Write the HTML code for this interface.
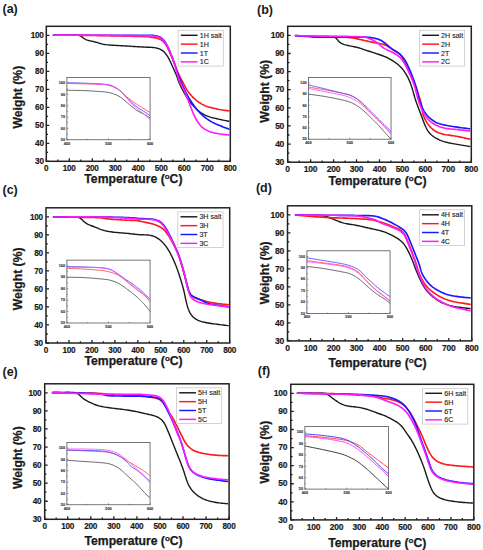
<!DOCTYPE html>
<html><head><meta charset="utf-8"><style>
html,body{margin:0;padding:0;background:#fff;width:483px;height:550px;overflow:hidden;}
svg{display:block;}
text{font-family:"Liberation Sans",sans-serif;}
</style></head><body>
<svg width="483" height="550" viewBox="0 0 483 550">
<rect width="483" height="550" fill="#fff"/>
<g><text x="2.5" y="12.6" font-size="12.5" font-weight="bold" fill="#1a1a1a">(a)</text><path d="M46.30,161.30V158.30 M57.80,161.30V159.50 M69.30,161.30V158.30 M80.80,161.30V159.50 M92.30,161.30V158.30 M103.80,161.30V159.50 M115.30,161.30V158.30 M126.80,161.30V159.50 M138.30,161.30V158.30 M149.80,161.30V159.50 M161.30,161.30V158.30 M172.80,161.30V159.50 M184.30,161.30V158.30 M195.80,161.30V159.50 M207.30,161.30V158.30 M218.80,161.30V159.50 M230.30,161.30V158.30 M46.30,161.30H49.30 M46.30,152.30H48.10 M46.30,143.30H49.30 M46.30,134.30H48.10 M46.30,125.30H49.30 M46.30,116.30H48.10 M46.30,107.30H49.30 M46.30,98.30H48.10 M46.30,89.30H49.30 M46.30,80.30H48.10 M46.30,71.30H49.30 M46.30,62.30H48.10 M46.30,53.30H49.30 M46.30,44.30H48.10 M46.30,35.30H49.30" stroke="#222222" stroke-width="1.3" fill="none"/><text x="43.70" y="164.00" font-size="8.2" font-weight="bold" fill="#1a1a1a" letter-spacing="-0.25" stroke="#1a1a1a" stroke-width="0.18" text-anchor="end">30</text><text x="43.70" y="146.00" font-size="8.2" font-weight="bold" fill="#1a1a1a" letter-spacing="-0.25" stroke="#1a1a1a" stroke-width="0.18" text-anchor="end">40</text><text x="43.70" y="128.00" font-size="8.2" font-weight="bold" fill="#1a1a1a" letter-spacing="-0.25" stroke="#1a1a1a" stroke-width="0.18" text-anchor="end">50</text><text x="43.70" y="110.00" font-size="8.2" font-weight="bold" fill="#1a1a1a" letter-spacing="-0.25" stroke="#1a1a1a" stroke-width="0.18" text-anchor="end">60</text><text x="43.70" y="92.00" font-size="8.2" font-weight="bold" fill="#1a1a1a" letter-spacing="-0.25" stroke="#1a1a1a" stroke-width="0.18" text-anchor="end">70</text><text x="43.70" y="74.00" font-size="8.2" font-weight="bold" fill="#1a1a1a" letter-spacing="-0.25" stroke="#1a1a1a" stroke-width="0.18" text-anchor="end">80</text><text x="43.70" y="56.00" font-size="8.2" font-weight="bold" fill="#1a1a1a" letter-spacing="-0.25" stroke="#1a1a1a" stroke-width="0.18" text-anchor="end">90</text><text x="43.70" y="38.00" font-size="8.2" font-weight="bold" fill="#1a1a1a" letter-spacing="-0.25" stroke="#1a1a1a" stroke-width="0.18" text-anchor="end">100</text><text x="46.20" y="171.00" font-size="8.2" font-weight="bold" fill="#1a1a1a" letter-spacing="-0.25" stroke="#1a1a1a" stroke-width="0.18" text-anchor="middle">0</text><text x="69.20" y="171.00" font-size="8.2" font-weight="bold" fill="#1a1a1a" letter-spacing="-0.25" stroke="#1a1a1a" stroke-width="0.18" text-anchor="middle">100</text><text x="92.20" y="171.00" font-size="8.2" font-weight="bold" fill="#1a1a1a" letter-spacing="-0.25" stroke="#1a1a1a" stroke-width="0.18" text-anchor="middle">200</text><text x="115.20" y="171.00" font-size="8.2" font-weight="bold" fill="#1a1a1a" letter-spacing="-0.25" stroke="#1a1a1a" stroke-width="0.18" text-anchor="middle">300</text><text x="138.20" y="171.00" font-size="8.2" font-weight="bold" fill="#1a1a1a" letter-spacing="-0.25" stroke="#1a1a1a" stroke-width="0.18" text-anchor="middle">400</text><text x="161.20" y="171.00" font-size="8.2" font-weight="bold" fill="#1a1a1a" letter-spacing="-0.25" stroke="#1a1a1a" stroke-width="0.18" text-anchor="middle">500</text><text x="184.20" y="171.00" font-size="8.2" font-weight="bold" fill="#1a1a1a" letter-spacing="-0.25" stroke="#1a1a1a" stroke-width="0.18" text-anchor="middle">600</text><text x="207.20" y="171.00" font-size="8.2" font-weight="bold" fill="#1a1a1a" letter-spacing="-0.25" stroke="#1a1a1a" stroke-width="0.18" text-anchor="middle">700</text><text x="230.20" y="171.00" font-size="8.2" font-weight="bold" fill="#1a1a1a" letter-spacing="-0.25" stroke="#1a1a1a" stroke-width="0.18" text-anchor="middle">800</text><text transform="translate(21.90,97.10) rotate(-90)" x="0" y="0" font-size="12.2" font-weight="bold" fill="#1a1a1a" stroke="#1a1a1a" stroke-width="0.25" text-anchor="middle">Weight (%)</text><text x="133.40" y="182.90" font-size="12.2" font-weight="bold" fill="#1a1a1a" stroke="#1a1a1a" stroke-width="0.25" text-anchor="middle">Temperature (<tspan font-size="8" dy="-4">o</tspan><tspan dy="4">C)</tspan></text><rect x="66.89" y="77.42" width="83.16" height="62.32" fill="#fff" stroke="#555" stroke-width="0.8"/><path d="M66.89,139.75V138.25 M87.68,139.75V138.75 M108.47,139.75V138.25 M129.26,139.75V138.75 M150.05,139.75V138.25 M66.89,139.75H68.39 M66.89,134.08H67.89 M66.89,128.42H68.39 M66.89,122.75H67.89 M66.89,117.08H68.39 M66.89,111.42H67.89 M66.89,105.75H68.39 M66.89,100.09H67.89 M66.89,94.42H68.39 M66.89,88.76H67.89 M66.89,83.09H68.39" stroke="#555" stroke-width="0.6" fill="none"/><text x="65.09" y="140.95" font-size="3.8" font-weight="bold" fill="#333" stroke="#333" stroke-width="0.12" text-anchor="end">50</text><text x="65.09" y="129.62" font-size="3.8" font-weight="bold" fill="#333" stroke="#333" stroke-width="0.12" text-anchor="end">60</text><text x="65.09" y="118.28" font-size="3.8" font-weight="bold" fill="#333" stroke="#333" stroke-width="0.12" text-anchor="end">70</text><text x="65.09" y="106.95" font-size="3.8" font-weight="bold" fill="#333" stroke="#333" stroke-width="0.12" text-anchor="end">80</text><text x="65.09" y="95.62" font-size="3.8" font-weight="bold" fill="#333" stroke="#333" stroke-width="0.12" text-anchor="end">90</text><text x="65.09" y="84.29" font-size="3.8" font-weight="bold" fill="#333" stroke="#333" stroke-width="0.12" text-anchor="end">100</text><text x="66.89" y="144.55" font-size="3.8" font-weight="bold" fill="#333" stroke="#333" stroke-width="0.12" text-anchor="middle">400</text><text x="108.47" y="144.55" font-size="3.8" font-weight="bold" fill="#333" stroke="#333" stroke-width="0.12" text-anchor="middle">500</text><text x="150.05" y="144.55" font-size="3.8" font-weight="bold" fill="#333" stroke="#333" stroke-width="0.12" text-anchor="middle">600</text><path d="M66.89,90.25 L68.41,90.27 L69.92,90.29 L71.43,90.31 L72.95,90.34 L74.46,90.36 L75.98,90.39 L77.49,90.42 L79.01,90.45 L80.52,90.49 L82.04,90.54 L83.55,90.60 L85.06,90.66 L86.58,90.73 L88.09,90.80 L89.60,90.88 L91.12,90.96 L92.63,91.05 L94.14,91.14 L95.65,91.23 L97.17,91.34 L98.68,91.44 L100.19,91.56 L101.70,91.68 L103.21,91.81 L104.72,91.95 L106.22,92.12 L107.72,92.34 L109.20,92.63 L110.67,92.99 L112.13,93.40 L113.57,93.86 L114.99,94.38 L116.39,94.96 L117.76,95.61 L119.08,96.34 L120.36,97.14 L121.60,98.01 L122.79,98.94 L123.96,99.91 L125.11,100.89 L126.27,101.87 L127.42,102.85 L128.59,103.82 L129.76,104.78 L130.93,105.75 L132.09,106.72 L133.26,107.68 L134.44,108.63 L135.64,109.55 L136.87,110.43 L138.15,111.24 L139.47,111.97 L140.83,112.64 L142.21,113.27 L143.57,113.93 L144.91,114.64 L146.21,115.41 L147.50,116.21 L148.77,117.02 L150.05,117.84" stroke="#555555" stroke-width="0.9" fill="none" stroke-linejoin="round"/><path d="M66.89,83.48 L68.40,83.51 L69.91,83.54 L71.43,83.57 L72.94,83.60 L74.45,83.63 L75.96,83.66 L77.47,83.69 L78.99,83.72 L80.50,83.76 L82.01,83.79 L83.52,83.83 L85.03,83.86 L86.55,83.90 L88.06,83.93 L89.57,83.96 L91.08,83.99 L92.59,84.02 L94.11,84.06 L95.62,84.10 L97.13,84.15 L98.64,84.21 L100.15,84.29 L101.66,84.38 L103.17,84.49 L104.67,84.63 L106.17,84.81 L107.66,85.07 L109.13,85.42 L110.58,85.85 L112.00,86.36 L113.40,86.92 L114.77,87.55 L116.12,88.24 L117.43,88.99 L118.70,89.80 L119.93,90.68 L121.11,91.62 L122.25,92.62 L123.35,93.65 L124.44,94.70 L125.54,95.75 L126.64,96.77 L127.78,97.77 L128.95,98.72 L130.15,99.64 L131.38,100.53 L132.62,101.40 L133.86,102.25 L135.12,103.09 L136.38,103.93 L137.65,104.76 L138.92,105.58 L140.20,106.39 L141.48,107.18 L142.77,107.97 L144.06,108.77 L145.34,109.56 L146.63,110.37 L147.91,111.17 L149.19,111.97 L150.05,112.50" stroke="#ff5050" stroke-width="0.9" fill="none" stroke-linejoin="round"/><path d="M66.89,82.77 L68.41,82.79 L69.92,82.82 L71.43,82.84 L72.95,82.87 L74.46,82.89 L75.98,82.92 L77.49,82.95 L79.01,82.99 L80.52,83.03 L82.04,83.07 L83.55,83.12 L85.07,83.17 L86.58,83.23 L88.09,83.29 L89.61,83.35 L91.12,83.42 L92.63,83.49 L94.15,83.56 L95.66,83.64 L97.17,83.72 L98.68,83.81 L100.20,83.91 L101.71,84.02 L103.22,84.13 L104.73,84.24 L106.24,84.38 L107.73,84.59 L109.21,84.92 L110.65,85.36 L112.06,85.90 L113.44,86.52 L114.79,87.22 L116.09,87.98 L117.37,88.79 L118.60,89.67 L119.79,90.60 L120.94,91.59 L122.03,92.63 L123.10,93.71 L124.14,94.81 L125.18,95.91 L126.22,97.01 L127.28,98.10 L128.36,99.16 L129.45,100.21 L130.55,101.25 L131.65,102.29 L132.77,103.32 L133.89,104.33 L135.03,105.33 L136.19,106.30 L137.38,107.24 L138.61,108.12 L139.88,108.95 L141.17,109.73 L142.48,110.50 L143.78,111.28 L145.05,112.10 L146.31,112.94 L147.56,113.80 L148.80,114.66 L150.05,115.53" stroke="#5050ff" stroke-width="0.9" fill="none" stroke-linejoin="round"/><path d="M66.89,83.48 L68.41,83.47 L69.92,83.46 L71.44,83.44 L72.95,83.43 L74.47,83.42 L75.98,83.42 L77.50,83.42 L79.01,83.42 L80.53,83.43 L82.05,83.45 L83.56,83.48 L85.08,83.52 L86.59,83.57 L88.10,83.63 L89.62,83.69 L91.13,83.76 L92.65,83.83 L94.16,83.91 L95.67,83.99 L97.19,84.08 L98.70,84.17 L100.21,84.27 L101.72,84.37 L103.24,84.47 L104.75,84.56 L106.26,84.67 L107.76,84.85 L109.24,85.14 L110.70,85.55 L112.12,86.05 L113.52,86.64 L114.88,87.30 L116.20,88.04 L117.47,88.85 L118.70,89.74 L119.87,90.70 L120.97,91.73 L122.03,92.82 L123.04,93.94 L124.03,95.09 L125.01,96.24 L125.99,97.40 L126.99,98.54 L128.00,99.67 L129.03,100.78 L130.08,101.87 L131.13,102.97 L132.19,104.05 L133.25,105.13 L134.33,106.20 L135.42,107.25 L136.53,108.28 L137.67,109.28 L138.84,110.24 L140.05,111.15 L141.28,112.03 L142.51,112.92 L143.72,113.83 L144.89,114.79 L146.03,115.79 L147.14,116.82 L148.23,117.87 L149.32,118.92 L150.05,119.63" stroke="#ff50ff" stroke-width="0.9" fill="none" stroke-linejoin="round"/><path d="M53.55,35.20 L55.05,35.20 L56.55,35.20 L58.06,35.20 L59.56,35.20 L61.07,35.20 L62.57,35.20 L64.08,35.20 L65.58,35.19 L67.08,35.17 L68.59,35.15 L70.09,35.11 L71.60,35.07 L73.10,35.03 L74.60,35.01 L76.09,35.04 L77.54,35.16 L78.94,35.42 L80.24,35.88 L81.42,36.55 L82.51,37.36 L83.58,38.22 L84.72,39.00 L85.96,39.64 L87.31,40.14 L88.72,40.52 L90.18,40.85 L91.65,41.16 L93.12,41.47 L94.58,41.82 L96.03,42.20 L97.46,42.63 L98.90,43.07 L100.33,43.49 L101.78,43.88 L103.24,44.20 L104.72,44.46 L106.20,44.67 L107.70,44.83 L109.19,44.97 L110.69,45.08 L112.19,45.19 L113.69,45.29 L115.20,45.38 L116.70,45.47 L118.20,45.56 L119.70,45.64 L121.20,45.73 L122.71,45.81 L124.21,45.90 L125.71,45.98 L127.21,46.07 L128.71,46.16 L130.21,46.25 L131.72,46.34 L133.22,46.43 L134.72,46.52 L136.22,46.61 L137.72,46.71 L139.22,46.80 L140.72,46.89 L142.23,46.97 L143.73,47.05 L145.23,47.12 L146.73,47.18 L148.23,47.23 L149.73,47.29 L151.23,47.38 L152.73,47.50 L154.22,47.67 L155.69,47.90 L157.15,48.22 L158.58,48.63 L159.95,49.16 L161.26,49.83 L162.48,50.64 L163.62,51.58 L164.67,52.62 L165.65,53.74 L166.55,54.93 L167.39,56.17 L168.17,57.45 L168.90,58.76 L169.59,60.10 L170.25,61.45 L170.88,62.81 L171.50,64.18 L172.10,65.56 L172.70,66.94 L173.30,68.32 L173.92,69.69 L174.55,71.05 L175.19,72.41 L175.82,73.76 L176.41,75.13 L176.94,76.50 L177.40,77.89 L177.83,79.29 L178.29,80.69 L178.80,82.07 L179.39,83.44 L180.02,84.79 L180.69,86.14 L181.37,87.48 L182.06,88.81 L182.77,90.14 L183.47,91.47 L184.18,92.80 L184.91,94.11 L185.65,95.42 L186.42,96.72 L187.21,97.99 L188.04,99.24 L188.91,100.47 L189.81,101.67 L190.75,102.84 L191.71,103.99 L192.70,105.12 L193.71,106.24 L194.75,107.33 L195.81,108.39 L196.89,109.43 L198.01,110.43 L199.16,111.39 L200.36,112.29 L201.59,113.13 L202.87,113.92 L204.18,114.63 L205.53,115.29 L206.91,115.88 L208.31,116.42 L209.73,116.90 L211.16,117.33 L212.61,117.73 L214.07,118.09 L215.54,118.44 L217.00,118.77 L218.47,119.10 L219.94,119.42 L221.41,119.74 L222.88,120.06 L224.35,120.37 L225.82,120.68 L227.30,120.99 L228.77,121.29" stroke="#1a1a1a" stroke-width="1.4" fill="none" stroke-linejoin="round" stroke-linecap="round"/><path d="M53.55,35.20 L55.05,35.21 L56.56,35.21 L58.07,35.21 L59.57,35.22 L61.08,35.22 L62.59,35.22 L64.09,35.22 L65.60,35.23 L67.10,35.23 L68.61,35.24 L70.12,35.24 L71.62,35.25 L73.13,35.26 L74.64,35.27 L76.14,35.28 L77.65,35.29 L79.16,35.31 L80.66,35.32 L82.17,35.34 L83.68,35.36 L85.18,35.38 L86.69,35.40 L88.19,35.42 L89.70,35.44 L91.21,35.47 L92.71,35.49 L94.22,35.52 L95.73,35.55 L97.23,35.57 L98.74,35.60 L100.24,35.63 L101.75,35.66 L103.26,35.69 L104.76,35.71 L106.27,35.74 L107.77,35.77 L109.28,35.80 L110.79,35.83 L112.29,35.86 L113.80,35.89 L115.31,35.92 L116.81,35.96 L118.32,35.99 L119.82,36.02 L121.33,36.05 L122.84,36.08 L124.34,36.12 L125.85,36.15 L127.35,36.18 L128.86,36.21 L130.37,36.25 L131.87,36.28 L133.38,36.32 L134.88,36.35 L136.39,36.39 L137.90,36.43 L139.40,36.46 L140.91,36.50 L142.41,36.55 L143.92,36.59 L145.40,36.64 L146.82,36.70 L148.14,36.79 L149.28,36.90 L150.24,37.04 L151.09,37.20 L151.97,37.37 L153.02,37.53 L154.24,37.71 L155.60,37.93 L157.02,38.24 L158.43,38.65 L159.80,39.19 L161.10,39.88 L162.32,40.70 L163.43,41.65 L164.44,42.73 L165.35,43.89 L166.18,45.13 L166.94,46.43 L167.64,47.75 L168.30,49.11 L168.93,50.47 L169.53,51.85 L170.12,53.24 L170.71,54.62 L171.30,56.01 L171.89,57.40 L172.49,58.78 L173.07,60.17 L173.65,61.56 L174.21,62.96 L174.76,64.36 L175.30,65.77 L175.83,67.18 L176.36,68.58 L176.91,69.99 L177.48,71.38 L178.07,72.76 L178.69,74.14 L179.34,75.50 L180.00,76.85 L180.68,78.19 L181.37,79.53 L182.06,80.87 L182.75,82.21 L183.44,83.55 L184.14,84.88 L184.85,86.21 L185.58,87.53 L186.33,88.83 L187.12,90.11 L187.95,91.36 L188.82,92.59 L189.74,93.77 L190.70,94.92 L191.71,96.04 L192.76,97.11 L193.85,98.15 L194.97,99.16 L196.11,100.13 L197.29,101.07 L198.50,101.96 L199.73,102.82 L201.00,103.62 L202.30,104.37 L203.64,105.05 L205.00,105.67 L206.39,106.22 L207.81,106.70 L209.25,107.11 L210.71,107.48 L212.16,107.83 L213.61,108.18 L215.04,108.54 L216.47,108.90 L217.90,109.24 L219.35,109.53 L220.82,109.79 L222.30,110.01 L223.79,110.22 L225.28,110.41 L226.78,110.60 L228.27,110.79 L228.77,110.85" stroke="#ff1a1a" stroke-width="1.65" fill="none" stroke-linejoin="round" stroke-linecap="round"/><path d="M53.55,35.20 L55.05,35.20 L56.56,35.20 L58.06,35.20 L59.57,35.20 L61.08,35.20 L62.58,35.20 L64.09,35.20 L65.60,35.20 L67.10,35.20 L68.61,35.20 L70.11,35.20 L71.62,35.20 L73.13,35.20 L74.63,35.20 L76.14,35.20 L77.65,35.20 L79.15,35.20 L80.66,35.20 L82.16,35.20 L83.67,35.20 L85.18,35.20 L86.68,35.20 L88.19,35.20 L89.69,35.20 L91.20,35.20 L92.71,35.20 L94.21,35.20 L95.72,35.20 L97.23,35.20 L98.73,35.20 L100.24,35.20 L101.74,35.20 L103.25,35.20 L104.76,35.20 L106.26,35.20 L107.77,35.20 L109.27,35.20 L110.78,35.20 L112.29,35.20 L113.79,35.20 L115.30,35.20 L116.81,35.20 L118.31,35.20 L119.82,35.20 L121.32,35.20 L122.83,35.20 L124.34,35.20 L125.84,35.20 L127.35,35.20 L128.86,35.20 L130.36,35.20 L131.87,35.20 L133.37,35.20 L134.88,35.20 L136.39,35.20 L137.89,35.20 L139.40,35.20 L140.90,35.20 L142.41,35.20 L143.91,35.20 L145.39,35.20 L146.82,35.20 L148.14,35.20 L149.29,35.20 L150.25,35.21 L151.11,35.24 L152.01,35.30 L153.07,35.39 L154.30,35.54 L155.67,35.75 L157.08,36.06 L158.48,36.49 L159.83,37.06 L161.09,37.79 L162.26,38.67 L163.32,39.68 L164.27,40.81 L165.13,42.02 L165.92,43.29 L166.65,44.60 L167.33,45.94 L167.99,47.30 L168.62,48.66 L169.23,50.04 L169.82,51.43 L170.39,52.82 L170.96,54.21 L171.51,55.61 L172.06,57.02 L172.59,58.42 L173.12,59.84 L173.63,61.25 L174.14,62.67 L174.63,64.09 L175.12,65.52 L175.60,66.95 L176.07,68.38 L176.55,69.80 L177.03,71.23 L177.52,72.65 L178.02,74.07 L178.54,75.49 L179.07,76.90 L179.61,78.30 L180.17,79.70 L180.74,81.09 L181.33,82.48 L181.92,83.87 L182.52,85.25 L183.13,86.63 L183.74,88.00 L184.38,89.37 L185.03,90.72 L185.70,92.07 L186.39,93.41 L187.10,94.74 L187.83,96.05 L188.58,97.36 L189.36,98.65 L190.15,99.93 L190.96,101.20 L191.78,102.46 L192.62,103.71 L193.48,104.94 L194.36,106.17 L195.26,107.37 L196.19,108.55 L197.15,109.71 L198.13,110.85 L199.14,111.97 L200.18,113.06 L201.24,114.12 L202.34,115.15 L203.46,116.15 L204.62,117.11 L205.80,118.03 L207.02,118.92 L208.26,119.77 L209.52,120.58 L210.81,121.36 L212.12,122.11 L213.44,122.81 L214.79,123.48 L216.15,124.11 L217.54,124.70 L218.93,125.27 L220.33,125.82 L221.73,126.37 L223.14,126.91 L224.55,127.45 L225.95,127.99 L227.36,128.52 L228.77,129.06" stroke="#1a1aff" stroke-width="1.65" fill="none" stroke-linejoin="round" stroke-linecap="round"/><path d="M53.55,35.20 L55.05,35.20 L56.56,35.20 L58.06,35.19 L59.57,35.19 L61.07,35.18 L62.58,35.18 L64.08,35.17 L65.59,35.17 L67.09,35.17 L68.60,35.16 L70.10,35.16 L71.61,35.16 L73.12,35.16 L74.62,35.16 L76.13,35.16 L77.63,35.16 L79.14,35.17 L80.64,35.17 L82.15,35.18 L83.65,35.18 L85.16,35.19 L86.66,35.20 L88.17,35.21 L89.67,35.22 L91.18,35.23 L92.68,35.24 L94.19,35.26 L95.69,35.27 L97.20,35.28 L98.70,35.30 L100.21,35.31 L101.72,35.33 L103.22,35.34 L104.73,35.36 L106.23,35.37 L107.74,35.39 L109.24,35.41 L110.75,35.42 L112.25,35.44 L113.76,35.46 L115.26,35.47 L116.77,35.49 L118.27,35.51 L119.78,35.52 L121.28,35.54 L122.79,35.56 L124.29,35.58 L125.80,35.59 L127.30,35.61 L128.81,35.63 L130.31,35.64 L131.82,35.66 L133.32,35.68 L134.83,35.70 L136.33,35.71 L137.84,35.73 L139.35,35.75 L140.85,35.76 L142.36,35.78 L143.86,35.80 L145.34,35.81 L146.77,35.82 L148.09,35.83 L149.24,35.84 L150.21,35.85 L151.07,35.87 L151.97,35.91 L153.02,35.99 L154.25,36.11 L155.61,36.31 L157.02,36.60 L158.42,37.02 L159.77,37.58 L161.04,38.30 L162.22,39.17 L163.29,40.17 L164.27,41.28 L165.17,42.47 L165.99,43.72 L166.76,45.01 L167.47,46.33 L168.14,47.67 L168.78,49.04 L169.39,50.41 L169.98,51.80 L170.55,53.19 L171.11,54.58 L171.67,55.98 L172.21,57.39 L172.74,58.80 L173.26,60.21 L173.76,61.63 L174.24,63.05 L174.70,64.49 L175.13,65.93 L175.55,67.37 L175.95,68.82 L176.34,70.28 L176.72,71.73 L177.10,73.19 L177.48,74.65 L177.87,76.10 L178.30,77.54 L178.77,78.96 L179.30,80.37 L179.88,81.75 L180.50,83.12 L181.16,84.47 L181.84,85.81 L182.52,87.15 L183.19,88.50 L183.85,89.85 L184.47,91.22 L185.07,92.60 L185.66,93.99 L186.22,95.38 L186.78,96.78 L187.33,98.18 L187.88,99.58 L188.43,100.98 L188.97,102.39 L189.52,103.79 L190.06,105.20 L190.59,106.60 L191.13,108.01 L191.67,109.41 L192.22,110.81 L192.79,112.21 L193.38,113.59 L194.00,114.96 L194.65,116.31 L195.33,117.66 L196.05,118.98 L196.79,120.29 L197.57,121.57 L198.39,122.82 L199.27,124.04 L200.21,125.20 L201.22,126.30 L202.30,127.32 L203.46,128.26 L204.68,129.11 L205.96,129.87 L207.29,130.55 L208.66,131.15 L210.06,131.68 L211.49,132.14 L212.93,132.54 L214.39,132.90 L215.86,133.21 L217.34,133.50 L218.82,133.76 L220.31,134.00 L221.79,134.22 L223.29,134.41 L224.78,134.60 L226.28,134.77 L227.77,134.93 L228.77,135.04" stroke="#ff1aff" stroke-width="1.65" fill="none" stroke-linejoin="round" stroke-linecap="round"/><rect x="46.30" y="26.30" width="184.00" height="135.00" fill="none" stroke="#222222" stroke-width="1.5"/><rect x="178.10" y="30.30" width="45.20" height="35.80" fill="#fff" stroke="#c8c8c8" stroke-width="0.8"/><path d="M180.80,35.30H197.60" stroke="#1a1a1a" stroke-width="1.45"/><text x="199.70" y="37.90" font-size="7.1" fill="#222" stroke="#222" stroke-width="0.12">1H salt</text><path d="M180.80,44.15H197.60" stroke="#ff1a1a" stroke-width="1.45"/><text x="199.70" y="46.75" font-size="7.1" fill="#222" stroke="#222" stroke-width="0.12">1H</text><path d="M180.80,53.00H197.60" stroke="#1a1aff" stroke-width="1.45"/><text x="199.70" y="55.60" font-size="7.1" fill="#222" stroke="#222" stroke-width="0.12">1T</text><path d="M180.80,61.85H197.60" stroke="#ff1aff" stroke-width="1.45"/><text x="199.70" y="64.45" font-size="7.1" fill="#222" stroke="#222" stroke-width="0.12">1C</text></g>
<g><text x="257" y="14.3" font-size="12.5" font-weight="bold" fill="#1a1a1a">(b)</text><path d="M287.70,162.20V159.20 M299.18,162.20V160.40 M310.65,162.20V159.20 M322.12,162.20V160.40 M333.60,162.20V159.20 M345.07,162.20V160.40 M356.55,162.20V159.20 M368.02,162.20V160.40 M379.50,162.20V159.20 M390.98,162.20V160.40 M402.45,162.20V159.20 M413.93,162.20V160.40 M425.40,162.20V159.20 M436.88,162.20V160.40 M448.35,162.20V159.20 M459.83,162.20V160.40 M471.30,162.20V159.20 M287.70,162.20H290.70 M287.70,153.14H289.50 M287.70,144.08H290.70 M287.70,135.02H289.50 M287.70,125.96H290.70 M287.70,116.90H289.50 M287.70,107.84H290.70 M287.70,98.78H289.50 M287.70,89.72H290.70 M287.70,80.66H289.50 M287.70,71.60H290.70 M287.70,62.54H289.50 M287.70,53.48H290.70 M287.70,44.42H289.50 M287.70,35.36H290.70" stroke="#222222" stroke-width="1.3" fill="none"/><text x="284.10" y="164.90" font-size="8.5" font-weight="bold" fill="#1a1a1a" letter-spacing="-0.25" stroke="#1a1a1a" stroke-width="0.18" text-anchor="end">30</text><text x="284.10" y="146.78" font-size="8.5" font-weight="bold" fill="#1a1a1a" letter-spacing="-0.25" stroke="#1a1a1a" stroke-width="0.18" text-anchor="end">40</text><text x="284.10" y="128.66" font-size="8.5" font-weight="bold" fill="#1a1a1a" letter-spacing="-0.25" stroke="#1a1a1a" stroke-width="0.18" text-anchor="end">50</text><text x="284.10" y="110.54" font-size="8.5" font-weight="bold" fill="#1a1a1a" letter-spacing="-0.25" stroke="#1a1a1a" stroke-width="0.18" text-anchor="end">60</text><text x="284.10" y="92.42" font-size="8.5" font-weight="bold" fill="#1a1a1a" letter-spacing="-0.25" stroke="#1a1a1a" stroke-width="0.18" text-anchor="end">70</text><text x="284.10" y="74.30" font-size="8.5" font-weight="bold" fill="#1a1a1a" letter-spacing="-0.25" stroke="#1a1a1a" stroke-width="0.18" text-anchor="end">80</text><text x="284.10" y="56.18" font-size="8.5" font-weight="bold" fill="#1a1a1a" letter-spacing="-0.25" stroke="#1a1a1a" stroke-width="0.18" text-anchor="end">90</text><text x="284.10" y="38.06" font-size="8.5" font-weight="bold" fill="#1a1a1a" letter-spacing="-0.25" stroke="#1a1a1a" stroke-width="0.18" text-anchor="end">100</text><text x="287.60" y="171.90" font-size="8.5" font-weight="bold" fill="#1a1a1a" letter-spacing="-0.25" stroke="#1a1a1a" stroke-width="0.18" text-anchor="middle">0</text><text x="310.55" y="171.90" font-size="8.5" font-weight="bold" fill="#1a1a1a" letter-spacing="-0.25" stroke="#1a1a1a" stroke-width="0.18" text-anchor="middle">100</text><text x="333.50" y="171.90" font-size="8.5" font-weight="bold" fill="#1a1a1a" letter-spacing="-0.25" stroke="#1a1a1a" stroke-width="0.18" text-anchor="middle">200</text><text x="356.45" y="171.90" font-size="8.5" font-weight="bold" fill="#1a1a1a" letter-spacing="-0.25" stroke="#1a1a1a" stroke-width="0.18" text-anchor="middle">300</text><text x="379.40" y="171.90" font-size="8.5" font-weight="bold" fill="#1a1a1a" letter-spacing="-0.25" stroke="#1a1a1a" stroke-width="0.18" text-anchor="middle">400</text><text x="402.35" y="171.90" font-size="8.5" font-weight="bold" fill="#1a1a1a" letter-spacing="-0.25" stroke="#1a1a1a" stroke-width="0.18" text-anchor="middle">500</text><text x="425.30" y="171.90" font-size="8.5" font-weight="bold" fill="#1a1a1a" letter-spacing="-0.25" stroke="#1a1a1a" stroke-width="0.18" text-anchor="middle">600</text><text x="448.25" y="171.90" font-size="8.5" font-weight="bold" fill="#1a1a1a" letter-spacing="-0.25" stroke="#1a1a1a" stroke-width="0.18" text-anchor="middle">700</text><text x="471.20" y="171.90" font-size="8.5" font-weight="bold" fill="#1a1a1a" letter-spacing="-0.25" stroke="#1a1a1a" stroke-width="0.18" text-anchor="middle">800</text><text transform="translate(269.20,91.30) rotate(-90)" x="0" y="0" font-size="12.2" font-weight="bold" fill="#1a1a1a" stroke="#1a1a1a" stroke-width="0.25" text-anchor="middle">Weight (%)</text><text x="377.50" y="185.30" font-size="12.2" font-weight="bold" fill="#1a1a1a" stroke="#1a1a1a" stroke-width="0.25" text-anchor="middle">Temperature (<tspan font-size="8" dy="-4">o</tspan><tspan dy="4">C)</tspan></text><rect x="308.42" y="77.42" width="82.62" height="61.79" fill="#fff" stroke="#555" stroke-width="0.8"/><path d="M308.42,139.21V137.71 M329.08,139.21V138.21 M349.74,139.21V137.71 M370.39,139.21V138.21 M391.05,139.21V137.71 M308.42,139.21H309.92 M308.42,133.60H309.42 M308.42,127.98H309.92 M308.42,122.36H309.42 M308.42,116.74H309.92 M308.42,111.13H309.42 M308.42,105.51H309.92 M308.42,99.89H309.42 M308.42,94.28H309.92 M308.42,88.66H309.42 M308.42,83.04H309.92" stroke="#555" stroke-width="0.6" fill="none"/><text x="306.62" y="140.41" font-size="3.8" font-weight="bold" fill="#333" stroke="#333" stroke-width="0.12" text-anchor="end">50</text><text x="306.62" y="129.18" font-size="3.8" font-weight="bold" fill="#333" stroke="#333" stroke-width="0.12" text-anchor="end">60</text><text x="306.62" y="117.94" font-size="3.8" font-weight="bold" fill="#333" stroke="#333" stroke-width="0.12" text-anchor="end">70</text><text x="306.62" y="106.71" font-size="3.8" font-weight="bold" fill="#333" stroke="#333" stroke-width="0.12" text-anchor="end">80</text><text x="306.62" y="95.48" font-size="3.8" font-weight="bold" fill="#333" stroke="#333" stroke-width="0.12" text-anchor="end">90</text><text x="306.62" y="84.24" font-size="3.8" font-weight="bold" fill="#333" stroke="#333" stroke-width="0.12" text-anchor="end">100</text><text x="308.42" y="144.01" font-size="3.8" font-weight="bold" fill="#333" stroke="#333" stroke-width="0.12" text-anchor="middle">400</text><text x="349.74" y="144.01" font-size="3.8" font-weight="bold" fill="#333" stroke="#333" stroke-width="0.12" text-anchor="middle">500</text><text x="391.05" y="144.01" font-size="3.8" font-weight="bold" fill="#333" stroke="#333" stroke-width="0.12" text-anchor="middle">600</text><path d="M308.42,94.16 L309.92,94.36 L311.42,94.56 L312.92,94.76 L314.41,94.95 L315.91,95.15 L317.41,95.36 L318.90,95.57 L320.40,95.79 L321.89,96.01 L323.38,96.25 L324.87,96.50 L326.36,96.75 L327.85,97.02 L329.33,97.30 L330.81,97.58 L332.30,97.87 L333.78,98.16 L335.26,98.46 L336.74,98.76 L338.22,99.07 L339.69,99.39 L341.17,99.71 L342.64,100.05 L344.11,100.39 L345.58,100.75 L347.04,101.13 L348.48,101.57 L349.90,102.07 L351.30,102.65 L352.67,103.28 L354.01,103.97 L355.33,104.70 L356.63,105.48 L357.90,106.29 L359.14,107.15 L360.36,108.04 L361.55,108.97 L362.71,109.93 L363.85,110.92 L364.97,111.94 L366.07,112.97 L367.17,114.01 L368.26,115.05 L369.35,116.09 L370.44,117.14 L371.52,118.19 L372.60,119.25 L373.68,120.31 L374.74,121.38 L375.80,122.46 L376.85,123.54 L377.90,124.63 L378.93,125.74 L379.95,126.85 L380.96,127.98 L381.95,129.11 L382.95,130.25 L383.94,131.38 L384.94,132.52 L385.95,133.64 L386.96,134.76 L387.98,135.87 L389.00,136.99 L390.02,138.10 L391.05,139.21" stroke="#555555" stroke-width="0.9" fill="none" stroke-linejoin="round"/><path d="M308.42,87.04 L309.91,87.30 L311.40,87.55 L312.89,87.81 L314.38,88.06 L315.86,88.32 L317.35,88.57 L318.84,88.83 L320.33,89.09 L321.81,89.35 L323.30,89.62 L324.79,89.89 L326.27,90.16 L327.76,90.43 L329.24,90.70 L330.73,90.97 L332.21,91.25 L333.69,91.52 L335.18,91.80 L336.66,92.09 L338.14,92.37 L339.63,92.66 L341.11,92.96 L342.58,93.26 L344.06,93.56 L345.55,93.85 L347.02,94.16 L348.49,94.52 L349.92,94.98 L351.31,95.55 L352.66,96.22 L353.97,96.97 L355.24,97.78 L356.48,98.64 L357.68,99.55 L358.86,100.50 L360.00,101.48 L361.11,102.51 L362.17,103.57 L363.20,104.68 L364.21,105.80 L365.20,106.94 L366.19,108.08 L367.18,109.22 L368.18,110.35 L369.20,111.46 L370.24,112.56 L371.30,113.64 L372.36,114.71 L373.43,115.77 L374.50,116.84 L375.58,117.90 L376.65,118.96 L377.72,120.02 L378.80,121.08 L379.87,122.14 L380.95,123.20 L382.03,124.26 L383.10,125.32 L384.15,126.40 L385.19,127.50 L386.20,128.61 L387.19,129.75 L388.17,130.91 L389.13,132.07 L390.09,133.24 L391.05,134.40" stroke="#ff5050" stroke-width="0.9" fill="none" stroke-linejoin="round"/><path d="M308.42,84.90 L309.89,85.25 L311.37,85.60 L312.84,85.95 L314.31,86.30 L315.78,86.65 L317.25,87.00 L318.72,87.35 L320.19,87.70 L321.66,88.06 L323.13,88.41 L324.59,88.77 L326.06,89.13 L327.53,89.49 L329.00,89.85 L330.47,90.21 L331.93,90.57 L333.40,90.93 L334.87,91.30 L336.33,91.66 L337.80,92.03 L339.27,92.40 L340.73,92.78 L342.19,93.16 L343.66,93.54 L345.12,93.92 L346.58,94.29 L348.04,94.70 L349.47,95.17 L350.88,95.71 L352.26,96.32 L353.62,96.98 L354.95,97.69 L356.26,98.45 L357.54,99.26 L358.78,100.11 L360.00,101.00 L361.18,101.94 L362.32,102.93 L363.43,103.95 L364.52,105.00 L365.59,106.07 L366.66,107.15 L367.72,108.22 L368.78,109.29 L369.86,110.36 L370.93,111.42 L372.00,112.49 L373.07,113.56 L374.14,114.63 L375.20,115.70 L376.27,116.77 L377.33,117.84 L378.40,118.91 L379.47,119.98 L380.53,121.06 L381.60,122.13 L382.67,123.20 L383.74,124.26 L384.81,125.33 L385.90,126.38 L386.99,127.42 L388.09,128.46 L389.20,129.49 L390.31,130.51 L391.05,131.20" stroke="#5050ff" stroke-width="0.9" fill="none" stroke-linejoin="round"/><path d="M308.42,88.46 L309.91,88.75 L311.39,89.04 L312.87,89.33 L314.35,89.62 L315.84,89.91 L317.32,90.20 L318.80,90.49 L320.28,90.78 L321.77,91.07 L323.25,91.36 L324.73,91.65 L326.21,91.94 L327.70,92.23 L329.18,92.51 L330.67,92.79 L332.15,93.08 L333.63,93.36 L335.12,93.65 L336.60,93.94 L338.08,94.24 L339.56,94.55 L341.03,94.87 L342.50,95.22 L343.97,95.59 L345.42,95.98 L346.87,96.42 L348.29,96.91 L349.70,97.47 L351.08,98.08 L352.44,98.73 L353.79,99.42 L355.11,100.14 L356.41,100.91 L357.69,101.72 L358.94,102.56 L360.16,103.44 L361.35,104.37 L362.52,105.33 L363.65,106.33 L364.76,107.35 L365.87,108.38 L366.97,109.42 L368.07,110.45 L369.18,111.47 L370.31,112.48 L371.44,113.48 L372.57,114.48 L373.71,115.47 L374.84,116.47 L375.96,117.49 L377.06,118.52 L378.14,119.58 L379.19,120.66 L380.21,121.77 L381.21,122.91 L382.20,124.05 L383.18,125.20 L384.18,126.33 L385.20,127.44 L386.25,128.52 L387.33,129.58 L388.44,130.61 L389.55,131.63 L390.67,132.64 L391.05,132.98" stroke="#ff50ff" stroke-width="0.9" fill="none" stroke-linejoin="round"/><path d="M295.55,35.62 L297.05,35.70 L298.55,35.78 L300.05,35.86 L301.55,35.94 L303.05,36.02 L304.56,36.10 L306.06,36.18 L307.56,36.25 L309.06,36.32 L310.56,36.39 L312.07,36.45 L313.57,36.51 L315.07,36.55 L316.58,36.59 L318.08,36.61 L319.58,36.63 L321.09,36.64 L322.59,36.64 L324.09,36.64 L325.60,36.63 L327.10,36.63 L328.60,36.64 L330.10,36.67 L331.56,36.74 L332.96,36.90 L334.24,37.20 L335.35,37.72 L336.29,38.46 L337.13,39.39 L337.96,40.43 L338.88,41.48 L339.92,42.43 L341.09,43.24 L342.38,43.90 L343.76,44.42 L345.18,44.84 L346.64,45.19 L348.10,45.51 L349.57,45.82 L351.05,46.12 L352.52,46.41 L353.99,46.72 L355.46,47.04 L356.92,47.38 L358.38,47.76 L359.82,48.18 L361.25,48.63 L362.68,49.11 L364.10,49.59 L365.52,50.08 L366.95,50.55 L368.38,51.02 L369.81,51.49 L371.24,51.95 L372.67,52.41 L374.10,52.88 L375.53,53.35 L376.95,53.83 L378.38,54.29 L379.81,54.77 L381.23,55.25 L382.65,55.75 L384.05,56.28 L385.43,56.86 L386.79,57.49 L388.14,58.17 L389.46,58.88 L390.76,59.62 L392.06,60.38 L393.33,61.18 L394.59,62.00 L395.82,62.85 L397.03,63.75 L398.20,64.68 L399.33,65.67 L400.41,66.70 L401.45,67.78 L402.43,68.91 L403.36,70.09 L404.24,71.30 L405.07,72.55 L405.86,73.82 L406.62,75.12 L407.34,76.44 L408.02,77.78 L408.67,79.13 L409.28,80.50 L409.86,81.89 L410.42,83.28 L410.94,84.69 L411.44,86.11 L411.91,87.54 L412.36,88.97 L412.79,90.41 L413.21,91.86 L413.60,93.31 L413.99,94.76 L414.38,96.21 L414.79,97.65 L415.23,99.09 L415.70,100.52 L416.19,101.94 L416.71,103.35 L417.24,104.76 L417.77,106.16 L418.31,107.57 L418.84,108.97 L419.37,110.38 L419.90,111.79 L420.42,113.20 L420.95,114.61 L421.47,116.02 L422.00,117.43 L422.52,118.84 L423.04,120.25 L423.57,121.65 L424.11,123.06 L424.67,124.45 L425.26,125.83 L425.88,127.20 L426.54,128.54 L427.26,129.85 L428.06,131.11 L428.94,132.31 L429.90,133.44 L430.95,134.50 L432.07,135.48 L433.25,136.40 L434.48,137.25 L435.75,138.03 L437.07,138.75 L438.41,139.42 L439.78,140.03 L441.17,140.60 L442.57,141.12 L444.00,141.59 L445.44,142.01 L446.89,142.39 L448.35,142.74 L449.82,143.05 L451.30,143.34 L452.77,143.62 L454.25,143.89 L455.73,144.15 L457.22,144.41 L458.70,144.66 L460.18,144.91 L461.66,145.16 L463.15,145.40 L464.63,145.65 L466.12,145.89 L467.60,146.13 L469.08,146.38 L469.58,146.46" stroke="#1a1a1a" stroke-width="1.4" fill="none" stroke-linejoin="round" stroke-linecap="round"/><path d="M295.55,35.62 L297.05,35.68 L298.55,35.74 L300.06,35.81 L301.56,35.87 L303.06,35.94 L304.57,36.00 L306.07,36.06 L307.57,36.12 L309.08,36.17 L310.58,36.22 L312.08,36.27 L313.59,36.32 L315.09,36.36 L316.60,36.39 L318.10,36.42 L319.60,36.45 L321.11,36.47 L322.61,36.49 L324.12,36.51 L325.62,36.53 L327.13,36.55 L328.63,36.56 L330.13,36.58 L331.64,36.60 L333.14,36.62 L334.65,36.64 L336.15,36.67 L337.66,36.70 L339.16,36.75 L340.66,36.80 L342.17,36.87 L343.67,36.96 L345.17,37.08 L346.66,37.22 L348.16,37.39 L349.65,37.58 L351.14,37.79 L352.62,38.02 L354.11,38.28 L355.59,38.55 L357.06,38.84 L358.53,39.15 L360.00,39.47 L361.47,39.81 L362.93,40.15 L364.40,40.49 L365.87,40.82 L367.34,41.14 L368.81,41.46 L370.28,41.77 L371.75,42.07 L373.23,42.37 L374.70,42.66 L376.18,42.94 L377.66,43.20 L379.14,43.45 L380.62,43.70 L382.08,44.00 L383.51,44.37 L384.90,44.87 L386.25,45.48 L387.55,46.20 L388.82,46.99 L390.07,47.81 L391.33,48.63 L392.60,49.43 L393.88,50.21 L395.17,50.97 L396.46,51.72 L397.70,52.50 L398.88,53.33 L399.95,54.27 L400.90,55.34 L401.74,56.52 L402.49,57.79 L403.20,59.10 L403.88,60.44 L404.54,61.80 L405.19,63.15 L405.84,64.51 L406.47,65.87 L407.11,67.24 L407.74,68.60 L408.37,69.97 L408.99,71.34 L409.61,72.71 L410.22,74.09 L410.82,75.46 L411.42,76.84 L412.01,78.23 L412.59,79.62 L413.16,81.01 L413.71,82.41 L414.26,83.81 L414.81,85.21 L415.34,86.62 L415.88,88.02 L416.41,89.43 L416.94,90.84 L417.47,92.25 L418.00,93.66 L418.52,95.07 L419.03,96.48 L419.54,97.90 L420.02,99.32 L420.47,100.75 L420.89,102.20 L421.26,103.65 L421.57,105.12 L421.81,106.59 L422.01,108.08 L422.18,109.57 L422.36,111.06 L422.60,112.53 L422.93,113.98 L423.35,115.41 L423.87,116.81 L424.48,118.17 L425.15,119.51 L425.88,120.83 L426.65,122.11 L427.46,123.38 L428.32,124.60 L429.23,125.79 L430.21,126.92 L431.24,128.00 L432.34,129.01 L433.50,129.95 L434.72,130.80 L436.00,131.56 L437.33,132.23 L438.70,132.82 L440.11,133.33 L441.54,133.77 L442.99,134.15 L444.46,134.48 L445.93,134.76 L447.41,135.00 L448.90,135.19 L450.40,135.37 L451.89,135.56 L453.38,135.76 L454.86,135.99 L456.34,136.24 L457.82,136.52 L459.30,136.82 L460.77,137.14 L462.24,137.46 L463.71,137.78 L465.17,138.11 L466.64,138.44 L468.11,138.77 L469.58,139.10" stroke="#ff1a1a" stroke-width="1.65" fill="none" stroke-linejoin="round" stroke-linecap="round"/><path d="M295.55,35.62 L297.05,35.73 L298.55,35.85 L300.05,35.96 L301.55,36.08 L303.05,36.20 L304.55,36.31 L306.05,36.43 L307.55,36.55 L309.05,36.67 L310.55,36.79 L312.05,36.90 L313.55,36.98 L315.05,37.05 L316.55,37.09 L318.06,37.11 L319.56,37.12 L321.06,37.13 L322.57,37.13 L324.07,37.13 L325.58,37.12 L327.08,37.12 L328.59,37.12 L330.09,37.11 L331.60,37.11 L333.10,37.11 L334.61,37.10 L336.11,37.10 L337.61,37.10 L339.12,37.10 L340.62,37.10 L342.13,37.10 L343.63,37.10 L345.14,37.10 L346.64,37.10 L348.15,37.09 L349.65,37.09 L351.16,37.08 L352.66,37.08 L354.17,37.07 L355.67,37.06 L357.17,37.06 L358.68,37.06 L360.18,37.06 L361.69,37.07 L363.19,37.09 L364.70,37.13 L366.20,37.19 L367.70,37.29 L369.19,37.42 L370.68,37.60 L372.17,37.81 L373.65,38.06 L375.12,38.36 L376.58,38.71 L378.01,39.14 L379.40,39.66 L380.75,40.29 L382.04,41.02 L383.27,41.85 L384.46,42.75 L385.62,43.70 L386.77,44.67 L387.92,45.64 L389.08,46.60 L390.25,47.54 L391.45,48.44 L392.67,49.31 L393.92,50.15 L395.18,50.97 L396.44,51.78 L397.69,52.62 L398.89,53.50 L400.05,54.44 L401.16,55.45 L402.20,56.52 L403.17,57.66 L404.08,58.84 L404.92,60.08 L405.69,61.36 L406.42,62.68 L407.10,64.01 L407.75,65.37 L408.38,66.73 L408.99,68.11 L409.60,69.49 L410.19,70.87 L410.76,72.26 L411.32,73.65 L411.88,75.05 L412.42,76.46 L412.95,77.87 L413.47,79.28 L413.98,80.69 L414.48,82.11 L414.97,83.53 L415.46,84.96 L415.93,86.38 L416.39,87.82 L416.83,89.25 L417.24,90.70 L417.61,92.16 L417.94,93.62 L418.24,95.09 L418.53,96.56 L418.85,98.03 L419.21,99.48 L419.63,100.92 L420.10,102.35 L420.61,103.76 L421.16,105.15 L421.75,106.54 L422.37,107.90 L423.04,109.25 L423.76,110.56 L424.53,111.85 L425.36,113.10 L426.25,114.30 L427.20,115.45 L428.22,116.54 L429.30,117.58 L430.43,118.56 L431.60,119.50 L432.81,120.39 L434.06,121.21 L435.34,121.97 L436.67,122.64 L438.05,123.22 L439.46,123.72 L440.89,124.14 L442.35,124.51 L443.81,124.84 L445.28,125.16 L446.76,125.45 L448.24,125.73 L449.72,126.00 L451.20,126.25 L452.68,126.49 L454.17,126.72 L455.66,126.94 L457.15,127.15 L458.64,127.36 L460.13,127.56 L461.62,127.76 L463.11,127.96 L464.61,128.15 L466.10,128.35 L467.59,128.54 L469.08,128.74 L469.58,128.80" stroke="#1a1aff" stroke-width="1.65" fill="none" stroke-linejoin="round" stroke-linecap="round"/><path d="M295.55,35.62 L297.05,35.66 L298.55,35.69 L300.06,35.73 L301.56,35.77 L303.06,35.81 L304.56,35.84 L306.07,35.88 L307.57,35.91 L309.07,35.95 L310.58,35.98 L312.08,36.01 L313.58,36.03 L315.09,36.06 L316.59,36.08 L318.09,36.10 L319.60,36.11 L321.10,36.13 L322.60,36.15 L324.11,36.16 L325.61,36.17 L327.11,36.19 L328.62,36.20 L330.12,36.21 L331.62,36.22 L333.13,36.24 L334.63,36.25 L336.13,36.26 L337.64,36.28 L339.14,36.29 L340.64,36.31 L342.15,36.32 L343.65,36.34 L345.15,36.36 L346.66,36.39 L348.16,36.42 L349.66,36.45 L351.16,36.50 L352.67,36.54 L354.17,36.60 L355.67,36.65 L357.17,36.71 L358.68,36.76 L360.18,36.82 L361.67,36.90 L363.16,37.03 L364.64,37.23 L366.09,37.53 L367.53,37.93 L368.94,38.42 L370.33,38.98 L371.69,39.60 L373.04,40.26 L374.35,40.98 L375.64,41.74 L376.89,42.56 L378.09,43.44 L379.25,44.39 L380.38,45.37 L381.50,46.34 L382.66,47.27 L383.87,48.12 L385.15,48.88 L386.47,49.55 L387.83,50.17 L389.21,50.77 L390.58,51.38 L391.93,52.02 L393.25,52.73 L394.53,53.49 L395.79,54.30 L397.03,55.15 L398.24,56.03 L399.40,56.96 L400.50,57.95 L401.50,59.03 L402.42,60.20 L403.27,61.42 L404.05,62.70 L404.79,64.00 L405.51,65.32 L406.20,66.66 L406.88,68.00 L407.55,69.34 L408.20,70.70 L408.85,72.05 L409.50,73.41 L410.13,74.77 L410.75,76.14 L411.35,77.52 L411.92,78.91 L412.46,80.31 L412.99,81.72 L413.49,83.13 L413.97,84.56 L414.44,85.99 L414.90,87.42 L415.33,88.86 L415.73,90.30 L416.11,91.76 L416.47,93.22 L416.82,94.68 L417.17,96.14 L417.54,97.59 L417.94,99.04 L418.38,100.48 L418.86,101.90 L419.37,103.31 L419.91,104.72 L420.46,106.11 L421.05,107.50 L421.65,108.87 L422.29,110.23 L422.96,111.57 L423.67,112.89 L424.43,114.19 L425.22,115.46 L426.07,116.70 L426.96,117.90 L427.90,119.06 L428.91,120.16 L429.99,121.19 L431.13,122.14 L432.34,123.02 L433.59,123.83 L434.89,124.57 L436.23,125.24 L437.60,125.86 L438.98,126.42 L440.39,126.94 L441.82,127.40 L443.26,127.82 L444.71,128.17 L446.18,128.46 L447.66,128.68 L449.15,128.85 L450.65,128.99 L452.15,129.11 L453.64,129.23 L455.14,129.36 L456.64,129.51 L458.13,129.67 L459.63,129.83 L461.12,130.01 L462.61,130.18 L464.10,130.36 L465.60,130.53 L467.09,130.71 L468.58,130.89 L469.58,131.01" stroke="#ff1aff" stroke-width="1.65" fill="none" stroke-linejoin="round" stroke-linecap="round"/><rect x="287.70" y="26.30" width="183.60" height="135.90" fill="none" stroke="#222222" stroke-width="1.5"/><rect x="419.50" y="30.30" width="45.20" height="35.80" fill="#fff" stroke="#c8c8c8" stroke-width="0.8"/><path d="M422.20,35.30H439.00" stroke="#1a1a1a" stroke-width="1.45"/><text x="441.10" y="37.90" font-size="7.1" fill="#222" stroke="#222" stroke-width="0.12">2H salt</text><path d="M422.20,44.15H439.00" stroke="#ff1a1a" stroke-width="1.45"/><text x="441.10" y="46.75" font-size="7.1" fill="#222" stroke="#222" stroke-width="0.12">2H</text><path d="M422.20,53.00H439.00" stroke="#1a1aff" stroke-width="1.45"/><text x="441.10" y="55.60" font-size="7.1" fill="#222" stroke="#222" stroke-width="0.12">2T</text><path d="M422.20,61.85H439.00" stroke="#ff1aff" stroke-width="1.45"/><text x="441.10" y="64.45" font-size="7.1" fill="#222" stroke="#222" stroke-width="0.12">2C</text></g>
<g><text x="2.5" y="194" font-size="12.5" font-weight="bold" fill="#1a1a1a">(c)</text><path d="M46.00,343.00V340.00 M57.48,343.00V341.20 M68.96,343.00V340.00 M80.44,343.00V341.20 M91.93,343.00V340.00 M103.41,343.00V341.20 M114.89,343.00V340.00 M126.37,343.00V341.20 M137.85,343.00V340.00 M149.33,343.00V341.20 M160.81,343.00V340.00 M172.29,343.00V341.20 M183.78,343.00V340.00 M195.26,343.00V341.20 M206.74,343.00V340.00 M218.22,343.00V341.20 M229.70,343.00V340.00 M46.00,343.00H49.00 M46.00,333.99H47.80 M46.00,324.97H49.00 M46.00,315.96H47.80 M46.00,306.95H49.00 M46.00,297.93H47.80 M46.00,288.92H49.00 M46.00,279.91H47.80 M46.00,270.89H49.00 M46.00,261.88H47.80 M46.00,252.87H49.00 M46.00,243.85H47.80 M46.00,234.84H49.00 M46.00,225.83H47.80 M46.00,216.81H49.00" stroke="#222222" stroke-width="1.3" fill="none"/><text x="42.90" y="345.70" font-size="8.2" font-weight="bold" fill="#1a1a1a" letter-spacing="-0.25" stroke="#1a1a1a" stroke-width="0.18" text-anchor="end">30</text><text x="42.90" y="327.67" font-size="8.2" font-weight="bold" fill="#1a1a1a" letter-spacing="-0.25" stroke="#1a1a1a" stroke-width="0.18" text-anchor="end">40</text><text x="42.90" y="309.65" font-size="8.2" font-weight="bold" fill="#1a1a1a" letter-spacing="-0.25" stroke="#1a1a1a" stroke-width="0.18" text-anchor="end">50</text><text x="42.90" y="291.62" font-size="8.2" font-weight="bold" fill="#1a1a1a" letter-spacing="-0.25" stroke="#1a1a1a" stroke-width="0.18" text-anchor="end">60</text><text x="42.90" y="273.59" font-size="8.2" font-weight="bold" fill="#1a1a1a" letter-spacing="-0.25" stroke="#1a1a1a" stroke-width="0.18" text-anchor="end">70</text><text x="42.90" y="255.57" font-size="8.2" font-weight="bold" fill="#1a1a1a" letter-spacing="-0.25" stroke="#1a1a1a" stroke-width="0.18" text-anchor="end">80</text><text x="42.90" y="237.54" font-size="8.2" font-weight="bold" fill="#1a1a1a" letter-spacing="-0.25" stroke="#1a1a1a" stroke-width="0.18" text-anchor="end">90</text><text x="42.90" y="219.51" font-size="8.2" font-weight="bold" fill="#1a1a1a" letter-spacing="-0.25" stroke="#1a1a1a" stroke-width="0.18" text-anchor="end">100</text><text x="45.90" y="352.70" font-size="8.2" font-weight="bold" fill="#1a1a1a" letter-spacing="-0.25" stroke="#1a1a1a" stroke-width="0.18" text-anchor="middle">0</text><text x="68.86" y="352.70" font-size="8.2" font-weight="bold" fill="#1a1a1a" letter-spacing="-0.25" stroke="#1a1a1a" stroke-width="0.18" text-anchor="middle">100</text><text x="91.83" y="352.70" font-size="8.2" font-weight="bold" fill="#1a1a1a" letter-spacing="-0.25" stroke="#1a1a1a" stroke-width="0.18" text-anchor="middle">200</text><text x="114.79" y="352.70" font-size="8.2" font-weight="bold" fill="#1a1a1a" letter-spacing="-0.25" stroke="#1a1a1a" stroke-width="0.18" text-anchor="middle">300</text><text x="137.75" y="352.70" font-size="8.2" font-weight="bold" fill="#1a1a1a" letter-spacing="-0.25" stroke="#1a1a1a" stroke-width="0.18" text-anchor="middle">400</text><text x="160.71" y="352.70" font-size="8.2" font-weight="bold" fill="#1a1a1a" letter-spacing="-0.25" stroke="#1a1a1a" stroke-width="0.18" text-anchor="middle">500</text><text x="183.68" y="352.70" font-size="8.2" font-weight="bold" fill="#1a1a1a" letter-spacing="-0.25" stroke="#1a1a1a" stroke-width="0.18" text-anchor="middle">600</text><text x="206.64" y="352.70" font-size="8.2" font-weight="bold" fill="#1a1a1a" letter-spacing="-0.25" stroke="#1a1a1a" stroke-width="0.18" text-anchor="middle">700</text><text x="229.60" y="352.70" font-size="8.2" font-weight="bold" fill="#1a1a1a" letter-spacing="-0.25" stroke="#1a1a1a" stroke-width="0.18" text-anchor="middle">800</text><text transform="translate(21.90,278.80) rotate(-90)" x="0" y="0" font-size="12.2" font-weight="bold" fill="#1a1a1a" stroke="#1a1a1a" stroke-width="0.25" text-anchor="middle">Weight (%)</text><text x="133.60" y="364.90" font-size="12.2" font-weight="bold" fill="#1a1a1a" stroke="#1a1a1a" stroke-width="0.25" text-anchor="middle">Temperature (<tspan font-size="8" dy="-4">o</tspan><tspan dy="4">C)</tspan></text><rect x="66.89" y="260.14" width="83.16" height="62.86" fill="#fff" stroke="#555" stroke-width="0.8"/><path d="M66.89,322.99V321.49 M87.68,322.99V321.99 M108.47,322.99V321.49 M129.26,322.99V321.99 M150.05,322.99V321.49 M66.89,322.99H68.39 M66.89,317.28H67.89 M66.89,311.56H68.39 M66.89,305.85H67.89 M66.89,300.14H68.39 M66.89,294.42H67.89 M66.89,288.71H68.39 M66.89,282.99H67.89 M66.89,277.28H68.39 M66.89,271.57H67.89 M66.89,265.85H68.39" stroke="#555" stroke-width="0.6" fill="none"/><text x="65.09" y="324.19" font-size="3.8" font-weight="bold" fill="#333" stroke="#333" stroke-width="0.12" text-anchor="end">50</text><text x="65.09" y="312.76" font-size="3.8" font-weight="bold" fill="#333" stroke="#333" stroke-width="0.12" text-anchor="end">60</text><text x="65.09" y="301.34" font-size="3.8" font-weight="bold" fill="#333" stroke="#333" stroke-width="0.12" text-anchor="end">70</text><text x="65.09" y="289.91" font-size="3.8" font-weight="bold" fill="#333" stroke="#333" stroke-width="0.12" text-anchor="end">80</text><text x="65.09" y="278.48" font-size="3.8" font-weight="bold" fill="#333" stroke="#333" stroke-width="0.12" text-anchor="end">90</text><text x="65.09" y="267.05" font-size="3.8" font-weight="bold" fill="#333" stroke="#333" stroke-width="0.12" text-anchor="end">100</text><text x="66.89" y="327.79" font-size="3.8" font-weight="bold" fill="#333" stroke="#333" stroke-width="0.12" text-anchor="middle">400</text><text x="108.47" y="327.79" font-size="3.8" font-weight="bold" fill="#333" stroke="#333" stroke-width="0.12" text-anchor="middle">500</text><text x="150.05" y="327.79" font-size="3.8" font-weight="bold" fill="#333" stroke="#333" stroke-width="0.12" text-anchor="middle">600</text><path d="M66.89,277.23 L68.40,277.25 L69.92,277.27 L71.43,277.29 L72.95,277.30 L74.46,277.33 L75.97,277.35 L77.49,277.38 L79.00,277.42 L80.52,277.46 L82.03,277.51 L83.54,277.58 L85.05,277.66 L86.56,277.75 L88.07,277.85 L89.58,277.96 L91.09,278.08 L92.60,278.20 L94.11,278.32 L95.62,278.45 L97.13,278.59 L98.64,278.73 L100.14,278.87 L101.65,279.01 L103.16,279.16 L104.67,279.31 L106.17,279.47 L107.67,279.68 L109.15,279.97 L110.62,280.32 L112.08,280.74 L113.51,281.22 L114.93,281.74 L116.33,282.33 L117.70,282.96 L119.05,283.65 L120.36,284.40 L121.64,285.20 L122.90,286.05 L124.13,286.92 L125.35,287.82 L126.57,288.73 L127.77,289.64 L128.98,290.55 L130.19,291.47 L131.39,292.39 L132.58,293.33 L133.76,294.27 L134.93,295.23 L136.09,296.20 L137.23,297.20 L138.35,298.22 L139.46,299.25 L140.54,300.31 L141.61,301.38 L142.66,302.48 L143.68,303.59 L144.69,304.72 L145.67,305.87 L146.63,307.04 L147.57,308.23 L148.50,309.42 L149.43,310.62 L150.05,311.42" stroke="#555555" stroke-width="0.9" fill="none" stroke-linejoin="round"/><path d="M66.89,268.33 L68.40,268.38 L69.91,268.44 L71.42,268.49 L72.93,268.55 L74.44,268.60 L75.95,268.66 L77.46,268.73 L78.97,268.79 L80.48,268.86 L81.99,268.94 L83.50,269.03 L85.00,269.12 L86.51,269.21 L88.02,269.31 L89.53,269.42 L91.03,269.53 L92.54,269.64 L94.05,269.75 L95.55,269.88 L97.06,270.01 L98.56,270.15 L100.07,270.30 L101.57,270.47 L103.07,270.66 L104.56,270.88 L106.05,271.14 L107.52,271.45 L108.99,271.82 L110.44,272.23 L111.89,272.67 L113.32,273.14 L114.75,273.64 L116.15,274.20 L117.52,274.83 L118.85,275.54 L120.14,276.32 L121.38,277.18 L122.58,278.10 L123.75,279.06 L124.90,280.03 L126.05,281.02 L127.20,281.99 L128.37,282.95 L129.54,283.91 L130.72,284.85 L131.89,285.80 L133.07,286.75 L134.25,287.69 L135.43,288.63 L136.62,289.57 L137.82,290.49 L139.03,291.38 L140.26,292.27 L141.48,293.15 L142.69,294.06 L143.86,295.02 L144.97,296.04 L146.04,297.11 L147.06,298.21 L148.07,299.34 L149.06,300.48 L150.05,301.63" stroke="#ff5050" stroke-width="0.9" fill="none" stroke-linejoin="round"/><path d="M66.89,266.55 L68.40,266.57 L69.91,266.60 L71.42,266.62 L72.92,266.65 L74.43,266.67 L75.94,266.70 L77.45,266.73 L78.96,266.77 L80.47,266.80 L81.97,266.85 L83.48,266.89 L84.99,266.95 L86.50,267.00 L88.00,267.05 L89.51,267.11 L91.02,267.17 L92.53,267.23 L94.03,267.30 L95.54,267.38 L97.05,267.46 L98.55,267.56 L100.06,267.67 L101.56,267.80 L103.06,267.95 L104.56,268.13 L106.05,268.35 L107.52,268.66 L108.97,269.07 L110.38,269.58 L111.76,270.19 L113.10,270.88 L114.40,271.64 L115.68,272.44 L116.94,273.27 L118.19,274.10 L119.45,274.94 L120.70,275.78 L121.95,276.63 L123.18,277.50 L124.42,278.37 L125.64,279.24 L126.87,280.12 L128.11,280.99 L129.34,281.85 L130.59,282.70 L131.84,283.55 L133.08,284.40 L134.32,285.27 L135.55,286.14 L136.76,287.04 L137.94,287.97 L139.11,288.93 L140.26,289.91 L141.39,290.90 L142.51,291.92 L143.62,292.94 L144.72,293.97 L145.80,295.02 L146.87,296.08 L147.93,297.16 L148.99,298.23 L150.05,299.31" stroke="#5050ff" stroke-width="0.9" fill="none" stroke-linejoin="round"/><path d="M66.89,267.26 L68.40,267.27 L69.91,267.29 L71.42,267.30 L72.93,267.31 L74.44,267.33 L75.94,267.34 L77.45,267.36 L78.96,267.38 L80.47,267.39 L81.98,267.41 L83.49,267.43 L85.00,267.45 L86.51,267.47 L88.02,267.48 L89.53,267.49 L91.03,267.50 L92.54,267.51 L94.05,267.53 L95.56,267.55 L97.07,267.59 L98.58,267.64 L100.09,267.71 L101.59,267.81 L103.10,267.93 L104.60,268.08 L106.09,268.30 L107.56,268.61 L109.00,269.04 L110.40,269.59 L111.76,270.24 L113.06,270.99 L114.33,271.80 L115.57,272.66 L116.79,273.54 L118.01,274.43 L119.24,275.32 L120.47,276.19 L121.69,277.07 L122.91,277.96 L124.12,278.86 L125.33,279.76 L126.54,280.68 L127.73,281.59 L128.93,282.52 L130.11,283.45 L131.29,284.39 L132.47,285.34 L133.64,286.29 L134.81,287.24 L135.99,288.18 L137.18,289.11 L138.39,290.01 L139.62,290.89 L140.85,291.75 L142.07,292.64 L143.25,293.59 L144.36,294.60 L145.40,295.68 L146.38,296.83 L147.32,298.01 L148.24,299.21 L149.14,300.42 L150.05,301.63" stroke="#ff50ff" stroke-width="0.9" fill="none" stroke-linejoin="round"/><path d="M53.55,217.00 L55.05,216.96 L56.55,216.93 L58.06,216.89 L59.56,216.85 L61.06,216.81 L62.56,216.78 L64.07,216.74 L65.57,216.71 L67.07,216.69 L68.58,216.68 L70.08,216.67 L71.58,216.68 L73.08,216.72 L74.58,216.79 L76.06,216.93 L77.50,217.18 L78.88,217.57 L80.14,218.16 L81.29,218.95 L82.34,219.89 L83.34,220.91 L84.38,221.91 L85.51,222.82 L86.73,223.63 L88.03,224.32 L89.39,224.92 L90.78,225.47 L92.19,225.99 L93.59,226.51 L94.99,227.06 L96.38,227.64 L97.76,228.22 L99.15,228.80 L100.55,229.34 L101.96,229.83 L103.40,230.27 L104.84,230.66 L106.30,231.00 L107.78,231.31 L109.25,231.57 L110.74,231.81 L112.23,232.02 L113.72,232.21 L115.21,232.37 L116.71,232.52 L118.20,232.66 L119.70,232.79 L121.20,232.91 L122.70,233.03 L124.20,233.15 L125.70,233.27 L127.19,233.40 L128.69,233.54 L130.19,233.69 L131.68,233.86 L133.17,234.03 L134.65,234.20 L136.10,234.37 L137.52,234.52 L138.91,234.64 L140.28,234.72 L141.66,234.78 L143.07,234.81 L144.52,234.85 L146.00,234.92 L147.49,235.02 L148.97,235.17 L150.45,235.40 L151.90,235.73 L153.32,236.16 L154.71,236.69 L156.04,237.34 L157.33,238.08 L158.57,238.91 L159.76,239.81 L160.90,240.78 L162.00,241.80 L163.05,242.87 L164.06,243.98 L165.02,245.13 L165.95,246.31 L166.83,247.52 L167.66,248.77 L168.46,250.04 L169.22,251.33 L169.95,252.65 L170.65,253.98 L171.32,255.32 L171.98,256.67 L172.63,258.03 L173.26,259.39 L173.87,260.76 L174.47,262.14 L175.06,263.53 L175.62,264.92 L176.17,266.32 L176.71,267.72 L177.23,269.13 L177.73,270.55 L178.22,271.97 L178.71,273.39 L179.18,274.82 L179.65,276.25 L180.10,277.68 L180.55,279.12 L180.99,280.55 L181.43,281.99 L181.86,283.44 L182.28,284.88 L182.69,286.33 L183.08,287.77 L183.47,289.23 L183.83,290.69 L184.18,292.15 L184.51,293.62 L184.82,295.09 L185.13,296.56 L185.43,298.03 L185.74,299.50 L186.07,300.97 L186.40,302.43 L186.76,303.89 L187.15,305.34 L187.57,306.78 L188.04,308.21 L188.56,309.61 L189.13,311.00 L189.77,312.35 L190.48,313.65 L191.29,314.90 L192.20,316.06 L193.21,317.13 L194.33,318.09 L195.54,318.95 L196.82,319.69 L198.15,320.34 L199.54,320.90 L200.95,321.38 L202.39,321.80 L203.85,322.16 L205.31,322.49 L206.78,322.79 L208.26,323.06 L209.75,323.30 L211.23,323.52 L212.72,323.72 L214.21,323.91 L215.71,324.08 L217.20,324.26 L218.69,324.44 L220.18,324.63 L221.67,324.82 L223.17,325.01 L224.66,325.21 L226.15,325.41 L227.64,325.61 L228.13,325.68" stroke="#1a1a1a" stroke-width="1.4" fill="none" stroke-linejoin="round" stroke-linecap="round"/><path d="M53.55,217.00 L55.05,217.01 L56.56,217.03 L58.06,217.04 L59.57,217.06 L61.07,217.08 L62.58,217.09 L64.08,217.10 L65.58,217.12 L67.09,217.13 L68.59,217.15 L70.10,217.16 L71.60,217.18 L73.11,217.19 L74.61,217.21 L76.12,217.23 L77.62,217.25 L79.13,217.26 L80.63,217.28 L82.14,217.30 L83.64,217.32 L85.15,217.34 L86.65,217.37 L88.16,217.39 L89.66,217.42 L91.17,217.45 L92.67,217.48 L94.17,217.52 L95.68,217.56 L97.18,217.62 L98.68,217.69 L100.18,217.80 L101.67,217.94 L103.16,218.14 L104.64,218.37 L106.12,218.61 L107.60,218.84 L109.09,219.04 L110.58,219.19 L112.08,219.32 L113.58,219.43 L115.08,219.53 L116.58,219.63 L118.08,219.72 L119.59,219.80 L121.09,219.89 L122.59,219.97 L124.09,220.05 L125.60,220.13 L127.10,220.20 L128.60,220.27 L130.11,220.32 L131.61,220.37 L133.11,220.42 L134.59,220.47 L136.04,220.55 L137.44,220.69 L138.77,220.90 L140.07,221.17 L141.38,221.47 L142.73,221.77 L144.13,222.05 L145.58,222.32 L147.05,222.59 L148.52,222.89 L149.98,223.22 L151.44,223.59 L152.88,224.00 L154.31,224.45 L155.73,224.95 L157.12,225.51 L158.48,226.13 L159.80,226.82 L161.07,227.60 L162.28,228.47 L163.42,229.43 L164.50,230.46 L165.50,231.56 L166.45,232.72 L167.34,233.93 L168.19,235.16 L169.01,236.42 L169.80,237.70 L170.57,238.99 L171.33,240.30 L172.07,241.61 L172.79,242.93 L173.50,244.26 L174.19,245.59 L174.86,246.94 L175.51,248.29 L176.15,249.66 L176.76,251.03 L177.34,252.42 L177.90,253.81 L178.44,255.22 L178.95,256.63 L179.44,258.05 L179.91,259.48 L180.37,260.91 L180.82,262.35 L181.26,263.79 L181.70,265.23 L182.12,266.67 L182.54,268.12 L182.95,269.57 L183.36,271.01 L183.76,272.47 L184.15,273.92 L184.54,275.37 L184.93,276.83 L185.32,278.28 L185.70,279.73 L186.09,281.19 L186.48,282.64 L186.86,284.10 L187.23,285.56 L187.61,287.01 L187.99,288.46 L188.41,289.90 L188.89,291.31 L189.46,292.67 L190.16,293.95 L191.01,295.11 L192.03,296.12 L193.19,296.98 L194.46,297.68 L195.82,298.26 L197.23,298.75 L198.66,299.18 L200.10,299.59 L201.54,300.02 L202.98,300.46 L204.41,300.91 L205.85,301.34 L207.30,301.74 L208.76,302.09 L210.23,302.41 L211.71,302.68 L213.19,302.92 L214.68,303.13 L216.17,303.34 L217.66,303.53 L219.16,303.71 L220.65,303.88 L222.15,304.05 L223.64,304.21 L225.14,304.37 L226.64,304.52 L228.13,304.67" stroke="#ff1a1a" stroke-width="1.65" fill="none" stroke-linejoin="round" stroke-linecap="round"/><path d="M53.55,217.00 L55.05,216.99 L56.55,216.99 L58.06,216.99 L59.56,216.99 L61.07,216.98 L62.57,216.98 L64.08,216.98 L65.58,216.97 L67.08,216.97 L68.59,216.97 L70.09,216.96 L71.60,216.96 L73.10,216.96 L74.60,216.96 L76.11,216.95 L77.61,216.95 L79.12,216.95 L80.62,216.95 L82.13,216.95 L83.63,216.95 L85.13,216.95 L86.64,216.95 L88.14,216.96 L89.65,216.96 L91.15,216.96 L92.66,216.97 L94.16,216.98 L95.66,216.98 L97.17,216.99 L98.67,217.00 L100.18,217.02 L101.68,217.03 L103.18,217.05 L104.69,217.07 L106.19,217.09 L107.70,217.11 L109.20,217.13 L110.70,217.16 L112.21,217.18 L113.71,217.21 L115.22,217.24 L116.72,217.27 L118.22,217.30 L119.73,217.34 L121.23,217.38 L122.73,217.42 L124.24,217.46 L125.74,217.51 L127.24,217.56 L128.75,217.63 L130.25,217.70 L131.75,217.80 L133.24,217.91 L134.71,218.04 L136.15,218.19 L137.54,218.33 L138.88,218.45 L140.19,218.55 L141.52,218.61 L142.90,218.66 L144.34,218.70 L145.81,218.75 L147.30,218.81 L148.80,218.90 L150.30,219.01 L151.79,219.15 L153.28,219.35 L154.75,219.61 L156.19,219.96 L157.59,220.43 L158.92,221.03 L160.18,221.79 L161.34,222.68 L162.42,223.69 L163.41,224.79 L164.33,225.97 L165.20,227.19 L166.02,228.45 L166.80,229.73 L167.55,231.03 L168.27,232.35 L168.96,233.68 L169.64,235.03 L170.30,236.38 L170.95,237.73 L171.59,239.09 L172.24,240.45 L172.88,241.81 L173.52,243.18 L174.16,244.54 L174.80,245.90 L175.43,247.26 L176.05,248.63 L176.66,250.01 L177.25,251.39 L177.83,252.78 L178.38,254.17 L178.92,255.58 L179.42,257.00 L179.91,258.42 L180.37,259.85 L180.82,261.28 L181.26,262.72 L181.68,264.17 L182.09,265.61 L182.50,267.06 L182.90,268.51 L183.30,269.96 L183.69,271.41 L184.07,272.87 L184.45,274.33 L184.81,275.78 L185.17,277.24 L185.53,278.71 L185.89,280.17 L186.25,281.63 L186.61,283.09 L186.97,284.55 L187.33,286.01 L187.70,287.46 L188.09,288.91 L188.53,290.34 L189.05,291.72 L189.69,293.02 L190.49,294.20 L191.47,295.22 L192.60,296.09 L193.85,296.83 L195.18,297.48 L196.55,298.07 L197.94,298.65 L199.31,299.25 L200.68,299.88 L202.02,300.54 L203.36,301.22 L204.71,301.89 L206.06,302.52 L207.45,303.08 L208.86,303.57 L210.29,303.97 L211.76,304.30 L213.23,304.56 L214.71,304.79 L216.20,305.00 L217.69,305.20 L219.19,305.40 L220.68,305.60 L222.17,305.80 L223.66,306.00 L225.15,306.20 L226.64,306.39 L228.13,306.58" stroke="#1a1aff" stroke-width="1.65" fill="none" stroke-linejoin="round" stroke-linecap="round"/><path d="M53.55,217.00 L55.05,216.99 L56.56,216.99 L58.06,216.98 L59.57,216.98 L61.07,216.97 L62.58,216.96 L64.08,216.96 L65.59,216.95 L67.09,216.94 L68.60,216.94 L70.10,216.93 L71.61,216.93 L73.11,216.92 L74.62,216.92 L76.12,216.91 L77.63,216.91 L79.13,216.91 L80.64,216.91 L82.14,216.91 L83.65,216.91 L85.15,216.91 L86.66,216.91 L88.16,216.92 L89.67,216.92 L91.17,216.93 L92.68,216.94 L94.18,216.96 L95.69,216.97 L97.19,216.99 L98.70,217.02 L100.20,217.04 L101.71,217.08 L103.21,217.11 L104.72,217.15 L106.22,217.20 L107.73,217.25 L109.23,217.30 L110.74,217.35 L112.24,217.41 L113.74,217.47 L115.25,217.53 L116.75,217.60 L118.25,217.67 L119.76,217.74 L121.26,217.82 L122.76,217.89 L124.27,217.97 L125.77,218.06 L127.27,218.14 L128.77,218.24 L130.28,218.34 L131.77,218.46 L133.27,218.59 L134.74,218.74 L136.18,218.90 L137.56,219.05 L138.90,219.17 L140.21,219.24 L141.54,219.28 L142.92,219.28 L144.36,219.27 L145.83,219.26 L147.33,219.27 L148.83,219.31 L150.33,219.39 L151.82,219.53 L153.30,219.75 L154.76,220.05 L156.18,220.46 L157.56,221.00 L158.87,221.66 L160.10,222.46 L161.25,223.39 L162.29,224.43 L163.26,225.57 L164.15,226.76 L164.99,228.01 L165.79,229.28 L166.56,230.57 L167.31,231.87 L168.04,233.19 L168.76,234.51 L169.46,235.84 L170.16,237.18 L170.84,238.52 L171.52,239.86 L172.18,241.21 L172.85,242.56 L173.50,243.92 L174.15,245.27 L174.79,246.64 L175.42,248.00 L176.04,249.37 L176.65,250.75 L177.24,252.13 L177.82,253.52 L178.38,254.92 L178.92,256.32 L179.44,257.74 L179.94,259.15 L180.43,260.58 L180.90,262.01 L181.36,263.44 L181.80,264.88 L182.24,266.32 L182.66,267.76 L183.07,269.21 L183.47,270.66 L183.86,272.12 L184.23,273.57 L184.58,275.04 L184.93,276.50 L185.27,277.97 L185.60,279.44 L185.94,280.90 L186.28,282.37 L186.64,283.83 L187.00,285.29 L187.38,286.75 L187.76,288.20 L188.16,289.65 L188.57,291.10 L189.00,292.54 L189.46,293.95 L190.00,295.32 L190.66,296.60 L191.49,297.76 L192.48,298.79 L193.62,299.69 L194.87,300.46 L196.19,301.13 L197.56,301.72 L198.97,302.23 L200.40,302.67 L201.85,303.06 L203.31,303.41 L204.79,303.72 L206.26,304.01 L207.74,304.27 L209.23,304.51 L210.72,304.73 L212.21,304.93 L213.70,305.12 L215.20,305.30 L216.69,305.48 L218.18,305.66 L219.68,305.85 L221.17,306.04 L222.66,306.23 L224.15,306.43 L225.65,306.63 L227.14,306.83 L228.13,306.96" stroke="#ff1aff" stroke-width="1.65" fill="none" stroke-linejoin="round" stroke-linecap="round"/><rect x="46.00" y="207.80" width="183.70" height="135.20" fill="none" stroke="#222222" stroke-width="1.5"/><rect x="177.80" y="211.80" width="45.20" height="35.80" fill="#fff" stroke="#c8c8c8" stroke-width="0.8"/><path d="M180.50,216.80H197.30" stroke="#1a1a1a" stroke-width="1.45"/><text x="199.40" y="219.40" font-size="7.1" fill="#222" stroke="#222" stroke-width="0.12">3H salt</text><path d="M180.50,225.65H197.30" stroke="#ff1a1a" stroke-width="1.45"/><text x="199.40" y="228.25" font-size="7.1" fill="#222" stroke="#222" stroke-width="0.12">3H</text><path d="M180.50,234.50H197.30" stroke="#1a1aff" stroke-width="1.45"/><text x="199.40" y="237.10" font-size="7.1" fill="#222" stroke="#222" stroke-width="0.12">3T</text><path d="M180.50,243.35H197.30" stroke="#ff1aff" stroke-width="1.45"/><text x="199.40" y="245.95" font-size="7.1" fill="#222" stroke="#222" stroke-width="0.12">3C</text></g>
<g><text x="255.9" y="192.3" font-size="12.5" font-weight="bold" fill="#1a1a1a">(d)</text><path d="M287.50,340.90V337.90 M299.02,340.90V339.10 M310.54,340.90V337.90 M322.06,340.90V339.10 M333.57,340.90V337.90 M345.09,340.90V339.10 M356.61,340.90V337.90 M368.13,340.90V339.10 M379.65,340.90V337.90 M391.17,340.90V339.10 M402.69,340.90V337.90 M414.21,340.90V339.10 M425.73,340.90V337.90 M437.24,340.90V339.10 M448.76,340.90V337.90 M460.28,340.90V339.10 M471.80,340.90V337.90 M287.50,340.90H290.50 M287.50,331.89H289.30 M287.50,322.89H290.50 M287.50,313.88H289.30 M287.50,304.87H290.50 M287.50,295.87H289.30 M287.50,286.86H290.50 M287.50,277.85H289.30 M287.50,268.85H290.50 M287.50,259.84H289.30 M287.50,250.83H290.50 M287.50,241.83H289.30 M287.50,232.82H290.50 M287.50,223.81H289.30 M287.50,214.81H290.50" stroke="#222222" stroke-width="1.3" fill="none"/><text x="283.90" y="343.60" font-size="8.5" font-weight="bold" fill="#1a1a1a" letter-spacing="-0.25" stroke="#1a1a1a" stroke-width="0.18" text-anchor="end">30</text><text x="283.90" y="325.59" font-size="8.5" font-weight="bold" fill="#1a1a1a" letter-spacing="-0.25" stroke="#1a1a1a" stroke-width="0.18" text-anchor="end">40</text><text x="283.90" y="307.57" font-size="8.5" font-weight="bold" fill="#1a1a1a" letter-spacing="-0.25" stroke="#1a1a1a" stroke-width="0.18" text-anchor="end">50</text><text x="283.90" y="289.56" font-size="8.5" font-weight="bold" fill="#1a1a1a" letter-spacing="-0.25" stroke="#1a1a1a" stroke-width="0.18" text-anchor="end">60</text><text x="283.90" y="271.55" font-size="8.5" font-weight="bold" fill="#1a1a1a" letter-spacing="-0.25" stroke="#1a1a1a" stroke-width="0.18" text-anchor="end">70</text><text x="283.90" y="253.53" font-size="8.5" font-weight="bold" fill="#1a1a1a" letter-spacing="-0.25" stroke="#1a1a1a" stroke-width="0.18" text-anchor="end">80</text><text x="283.90" y="235.52" font-size="8.5" font-weight="bold" fill="#1a1a1a" letter-spacing="-0.25" stroke="#1a1a1a" stroke-width="0.18" text-anchor="end">90</text><text x="283.90" y="217.51" font-size="8.5" font-weight="bold" fill="#1a1a1a" letter-spacing="-0.25" stroke="#1a1a1a" stroke-width="0.18" text-anchor="end">100</text><text x="287.40" y="350.60" font-size="8.5" font-weight="bold" fill="#1a1a1a" letter-spacing="-0.25" stroke="#1a1a1a" stroke-width="0.18" text-anchor="middle">0</text><text x="310.44" y="350.60" font-size="8.5" font-weight="bold" fill="#1a1a1a" letter-spacing="-0.25" stroke="#1a1a1a" stroke-width="0.18" text-anchor="middle">100</text><text x="333.47" y="350.60" font-size="8.5" font-weight="bold" fill="#1a1a1a" letter-spacing="-0.25" stroke="#1a1a1a" stroke-width="0.18" text-anchor="middle">200</text><text x="356.51" y="350.60" font-size="8.5" font-weight="bold" fill="#1a1a1a" letter-spacing="-0.25" stroke="#1a1a1a" stroke-width="0.18" text-anchor="middle">300</text><text x="379.55" y="350.60" font-size="8.5" font-weight="bold" fill="#1a1a1a" letter-spacing="-0.25" stroke="#1a1a1a" stroke-width="0.18" text-anchor="middle">400</text><text x="402.59" y="350.60" font-size="8.5" font-weight="bold" fill="#1a1a1a" letter-spacing="-0.25" stroke="#1a1a1a" stroke-width="0.18" text-anchor="middle">500</text><text x="425.62" y="350.60" font-size="8.5" font-weight="bold" fill="#1a1a1a" letter-spacing="-0.25" stroke="#1a1a1a" stroke-width="0.18" text-anchor="middle">600</text><text x="448.66" y="350.60" font-size="8.5" font-weight="bold" fill="#1a1a1a" letter-spacing="-0.25" stroke="#1a1a1a" stroke-width="0.18" text-anchor="middle">700</text><text x="471.70" y="350.60" font-size="8.5" font-weight="bold" fill="#1a1a1a" letter-spacing="-0.25" stroke="#1a1a1a" stroke-width="0.18" text-anchor="middle">800</text><text transform="translate(269.20,272.80) rotate(-90)" x="0" y="0" font-size="12.2" font-weight="bold" fill="#1a1a1a" stroke="#1a1a1a" stroke-width="0.25" text-anchor="middle">Weight (%)</text><text x="377.50" y="367.00" font-size="12.2" font-weight="bold" fill="#1a1a1a" stroke="#1a1a1a" stroke-width="0.25" text-anchor="middle">Temperature (<tspan font-size="8" dy="-4">o</tspan><tspan dy="4">C)</tspan></text><rect x="306.89" y="250.78" width="83.16" height="62.68" fill="#fff" stroke="#555" stroke-width="0.8"/><path d="M306.89,313.46V311.96 M327.68,313.46V312.46 M348.47,313.46V311.96 M369.26,313.46V312.46 M390.05,313.46V311.96 M306.89,313.46H308.39 M306.89,307.76H307.89 M306.89,302.06H308.39 M306.89,296.36H307.89 M306.89,290.67H308.39 M306.89,284.97H307.89 M306.89,279.27H308.39 M306.89,273.57H307.89 M306.89,267.87H308.39 M306.89,262.18H307.89 M306.89,256.48H308.39" stroke="#555" stroke-width="0.6" fill="none"/><text x="305.09" y="314.66" font-size="3.8" font-weight="bold" fill="#333" stroke="#333" stroke-width="0.12" text-anchor="end">50</text><text x="305.09" y="303.26" font-size="3.8" font-weight="bold" fill="#333" stroke="#333" stroke-width="0.12" text-anchor="end">60</text><text x="305.09" y="291.87" font-size="3.8" font-weight="bold" fill="#333" stroke="#333" stroke-width="0.12" text-anchor="end">70</text><text x="305.09" y="280.47" font-size="3.8" font-weight="bold" fill="#333" stroke="#333" stroke-width="0.12" text-anchor="end">80</text><text x="305.09" y="269.07" font-size="3.8" font-weight="bold" fill="#333" stroke="#333" stroke-width="0.12" text-anchor="end">90</text><text x="305.09" y="257.68" font-size="3.8" font-weight="bold" fill="#333" stroke="#333" stroke-width="0.12" text-anchor="end">100</text><text x="306.89" y="318.26" font-size="3.8" font-weight="bold" fill="#333" stroke="#333" stroke-width="0.12" text-anchor="middle">400</text><text x="348.47" y="318.26" font-size="3.8" font-weight="bold" fill="#333" stroke="#333" stroke-width="0.12" text-anchor="middle">500</text><text x="390.05" y="318.26" font-size="3.8" font-weight="bold" fill="#333" stroke="#333" stroke-width="0.12" text-anchor="middle">600</text><path d="M306.89,266.45 L308.39,266.63 L309.89,266.81 L311.40,266.98 L312.90,267.16 L314.40,267.34 L315.90,267.52 L317.40,267.71 L318.90,267.90 L320.40,268.10 L321.90,268.31 L323.39,268.53 L324.89,268.76 L326.38,269.00 L327.87,269.25 L329.36,269.51 L330.85,269.77 L332.34,270.03 L333.83,270.30 L335.31,270.58 L336.80,270.86 L338.29,271.14 L339.77,271.43 L341.25,271.72 L342.74,272.00 L344.23,272.28 L345.71,272.57 L347.19,272.90 L348.64,273.30 L350.06,273.80 L351.45,274.39 L352.81,275.05 L354.13,275.77 L355.43,276.55 L356.70,277.37 L357.95,278.22 L359.17,279.12 L360.36,280.05 L361.51,281.02 L362.64,282.03 L363.75,283.06 L364.85,284.10 L365.95,285.13 L367.06,286.15 L368.20,287.15 L369.34,288.14 L370.50,289.11 L371.67,290.07 L372.84,291.02 L374.03,291.97 L375.22,292.89 L376.43,293.80 L377.66,294.68 L378.92,295.52 L380.20,296.32 L381.50,297.10 L382.79,297.88 L384.06,298.70 L385.29,299.57 L386.50,300.48 L387.69,301.41 L388.87,302.36 L390.05,303.31" stroke="#555555" stroke-width="0.9" fill="none" stroke-linejoin="round"/><path d="M306.89,260.57 L308.39,260.78 L309.89,260.98 L311.39,261.19 L312.88,261.39 L314.38,261.60 L315.88,261.80 L317.38,262.01 L318.88,262.21 L320.38,262.42 L321.88,262.62 L323.37,262.83 L324.87,263.03 L326.37,263.23 L327.87,263.43 L329.37,263.63 L330.87,263.83 L332.37,264.03 L333.87,264.23 L335.37,264.43 L336.86,264.64 L338.36,264.86 L339.86,265.10 L341.35,265.34 L342.84,265.61 L344.32,265.89 L345.80,266.20 L347.26,266.58 L348.70,267.03 L350.12,267.56 L351.51,268.16 L352.87,268.81 L354.21,269.51 L355.52,270.27 L356.79,271.09 L358.01,271.97 L359.19,272.91 L360.32,273.92 L361.38,274.99 L362.41,276.10 L363.41,277.23 L364.39,278.38 L365.37,279.54 L366.36,280.68 L367.37,281.80 L368.42,282.89 L369.49,283.96 L370.58,285.00 L371.69,286.03 L372.82,287.04 L373.95,288.04 L375.09,289.03 L376.25,290.01 L377.41,290.98 L378.59,291.92 L379.80,292.83 L381.02,293.73 L382.24,294.62 L383.45,295.52 L384.65,296.45 L385.82,297.40 L386.98,298.37 L388.13,299.35 L389.28,300.34 L390.05,300.99" stroke="#ff5050" stroke-width="0.9" fill="none" stroke-linejoin="round"/><path d="M306.89,257.90 L308.39,258.14 L309.88,258.37 L311.38,258.60 L312.88,258.84 L314.37,259.07 L315.87,259.31 L317.36,259.54 L318.86,259.78 L320.35,260.02 L321.85,260.26 L323.34,260.50 L324.84,260.74 L326.33,260.99 L327.83,261.23 L329.32,261.47 L330.82,261.72 L332.31,261.96 L333.81,262.21 L335.30,262.46 L336.79,262.72 L338.28,262.98 L339.77,263.26 L341.26,263.54 L342.75,263.83 L344.23,264.14 L345.70,264.47 L347.17,264.85 L348.62,265.28 L350.05,265.77 L351.47,266.29 L352.88,266.85 L354.27,267.45 L355.64,268.10 L356.97,268.82 L358.25,269.61 L359.48,270.49 L360.65,271.44 L361.77,272.47 L362.84,273.53 L363.89,274.63 L364.92,275.73 L365.96,276.84 L367.00,277.93 L368.07,279.00 L369.16,280.05 L370.27,281.09 L371.38,282.12 L372.50,283.14 L373.62,284.15 L374.76,285.16 L375.90,286.15 L377.06,287.12 L378.23,288.08 L379.42,289.01 L380.63,289.93 L381.85,290.82 L383.08,291.71 L384.31,292.60 L385.53,293.49 L386.76,294.37 L387.99,295.25 L389.22,296.13 L390.05,296.72" stroke="#5050ff" stroke-width="0.9" fill="none" stroke-linejoin="round"/><path d="M306.89,261.82 L308.40,261.97 L309.91,262.12 L311.41,262.27 L312.92,262.42 L314.43,262.58 L315.94,262.73 L317.45,262.89 L318.95,263.05 L320.46,263.21 L321.97,263.39 L323.47,263.56 L324.98,263.75 L326.48,263.93 L327.98,264.12 L329.49,264.31 L330.99,264.51 L332.49,264.71 L334.00,264.91 L335.50,265.13 L337.00,265.34 L338.49,265.57 L339.99,265.82 L341.48,266.08 L342.97,266.36 L344.46,266.67 L345.93,267.02 L347.39,267.43 L348.82,267.93 L350.22,268.49 L351.60,269.11 L352.96,269.77 L354.30,270.49 L355.61,271.26 L356.88,272.08 L358.11,272.95 L359.30,273.89 L360.45,274.88 L361.54,275.93 L362.60,277.01 L363.63,278.12 L364.65,279.25 L365.66,280.37 L366.69,281.48 L367.74,282.58 L368.81,283.65 L369.90,284.71 L370.99,285.75 L372.10,286.79 L373.21,287.82 L374.33,288.84 L375.47,289.85 L376.61,290.84 L377.78,291.81 L378.96,292.75 L380.17,293.66 L381.40,294.55 L382.63,295.44 L383.84,296.35 L385.03,297.29 L386.20,298.25 L387.36,299.23 L388.51,300.21 L389.66,301.20 L390.05,301.53" stroke="#ff50ff" stroke-width="0.9" fill="none" stroke-linejoin="round"/><path d="M295.55,215.00 L297.05,215.02 L298.55,215.04 L300.06,215.06 L301.56,215.09 L303.06,215.11 L304.57,215.13 L306.07,215.15 L307.57,215.18 L309.08,215.20 L310.58,215.23 L312.08,215.26 L313.59,215.30 L315.09,215.35 L316.59,215.40 L318.09,215.47 L319.59,215.56 L321.09,215.68 L322.58,215.84 L324.05,216.08 L325.51,216.39 L326.96,216.78 L328.38,217.24 L329.79,217.75 L331.19,218.30 L332.57,218.87 L333.96,219.46 L335.34,220.05 L336.73,220.63 L338.12,221.20 L339.52,221.74 L340.93,222.23 L342.37,222.68 L343.81,223.06 L345.27,223.40 L346.75,223.69 L348.23,223.96 L349.71,224.20 L351.19,224.44 L352.68,224.68 L354.16,224.93 L355.64,225.20 L357.11,225.49 L358.59,225.79 L360.06,226.10 L361.52,226.43 L362.99,226.76 L364.46,227.10 L365.92,227.45 L367.38,227.79 L368.85,228.13 L370.32,228.46 L371.78,228.79 L373.25,229.11 L374.72,229.42 L376.19,229.74 L377.66,230.07 L379.12,230.42 L380.57,230.80 L382.02,231.22 L383.45,231.67 L384.86,232.16 L386.26,232.70 L387.65,233.28 L389.01,233.91 L390.37,234.56 L391.71,235.24 L393.04,235.94 L394.36,236.65 L395.67,237.39 L396.96,238.15 L398.23,238.95 L399.46,239.80 L400.64,240.72 L401.75,241.71 L402.79,242.77 L403.76,243.90 L404.66,245.10 L405.49,246.34 L406.28,247.61 L407.02,248.92 L407.74,250.24 L408.42,251.58 L409.09,252.92 L409.74,254.28 L410.37,255.64 L410.98,257.02 L411.58,258.40 L412.16,259.78 L412.73,261.17 L413.27,262.57 L413.80,263.98 L414.32,265.39 L414.83,266.81 L415.34,268.22 L415.87,269.63 L416.41,271.03 L416.97,272.42 L417.55,273.81 L418.14,275.20 L418.74,276.57 L419.36,277.94 L420.00,279.30 L420.65,280.66 L421.32,282.00 L422.01,283.34 L422.72,284.66 L423.47,285.96 L424.25,287.24 L425.09,288.48 L425.98,289.69 L426.92,290.86 L427.90,291.99 L428.93,293.08 L429.99,294.14 L431.09,295.17 L432.21,296.16 L433.36,297.12 L434.54,298.05 L435.75,298.95 L436.98,299.80 L438.24,300.62 L439.52,301.39 L440.84,302.12 L442.18,302.78 L443.54,303.40 L444.94,303.95 L446.35,304.45 L447.78,304.91 L449.22,305.33 L450.68,305.71 L452.14,306.05 L453.61,306.36 L455.08,306.63 L456.57,306.87 L458.05,307.08 L459.54,307.27 L461.04,307.46 L462.53,307.64 L464.02,307.83 L465.51,308.01 L467.01,308.19 L468.50,308.37 L469.99,308.55" stroke="#1a1a1a" stroke-width="1.4" fill="none" stroke-linejoin="round" stroke-linecap="round"/><path d="M295.55,215.00 L297.04,215.14 L298.54,215.29 L300.04,215.43 L301.53,215.57 L303.03,215.71 L304.53,215.85 L306.03,215.98 L307.53,216.11 L309.03,216.23 L310.52,216.35 L312.02,216.47 L313.52,216.59 L315.02,216.71 L316.52,216.82 L318.02,216.93 L319.52,217.04 L321.02,217.15 L322.52,217.25 L324.02,217.35 L325.53,217.44 L327.03,217.53 L328.53,217.61 L330.03,217.68 L331.53,217.75 L333.04,217.81 L334.54,217.86 L336.04,217.90 L337.55,217.94 L339.05,217.97 L340.55,218.01 L342.06,218.04 L343.56,218.08 L345.06,218.12 L346.57,218.17 L348.07,218.22 L349.57,218.28 L351.07,218.35 L352.58,218.43 L354.08,218.50 L355.58,218.59 L357.08,218.67 L358.58,218.76 L360.08,218.86 L361.59,218.95 L363.09,219.06 L364.59,219.17 L366.08,219.29 L367.58,219.43 L369.08,219.58 L370.57,219.76 L372.06,219.97 L373.54,220.22 L375.01,220.52 L376.47,220.87 L377.92,221.25 L379.36,221.67 L380.80,222.10 L382.24,222.55 L383.66,223.03 L385.08,223.52 L386.49,224.04 L387.90,224.58 L389.29,225.13 L390.69,225.70 L392.08,226.27 L393.47,226.84 L394.86,227.41 L396.24,227.99 L397.61,228.61 L398.94,229.28 L400.22,230.03 L401.42,230.89 L402.52,231.86 L403.51,232.94 L404.37,234.13 L405.12,235.40 L405.78,236.74 L406.39,238.11 L406.96,239.50 L407.52,240.89 L408.08,242.29 L408.64,243.68 L409.20,245.08 L409.76,246.47 L410.32,247.87 L410.87,249.27 L411.42,250.67 L411.96,252.07 L412.49,253.48 L413.02,254.89 L413.55,256.30 L414.06,257.71 L414.58,259.12 L415.08,260.54 L415.56,261.96 L416.03,263.39 L416.47,264.83 L416.89,266.27 L417.31,267.71 L417.74,269.15 L418.21,270.58 L418.71,271.99 L419.24,273.40 L419.81,274.79 L420.42,276.16 L421.05,277.52 L421.73,278.86 L422.44,280.19 L423.18,281.49 L423.97,282.76 L424.81,284.01 L425.71,285.21 L426.65,286.37 L427.66,287.48 L428.71,288.54 L429.82,289.55 L430.96,290.53 L432.13,291.46 L433.33,292.36 L434.55,293.24 L435.80,294.08 L437.06,294.90 L438.34,295.68 L439.64,296.43 L440.97,297.14 L442.31,297.80 L443.68,298.42 L445.07,298.99 L446.47,299.52 L447.89,300.00 L449.33,300.45 L450.77,300.87 L452.22,301.26 L453.68,301.61 L455.15,301.94 L456.62,302.23 L458.10,302.49 L459.58,302.73 L461.07,302.96 L462.56,303.18 L464.04,303.41 L465.53,303.64 L467.02,303.86 L468.51,304.09 L469.99,304.32" stroke="#ff1a1a" stroke-width="1.65" fill="none" stroke-linejoin="round" stroke-linecap="round"/><path d="M295.55,215.00 L297.05,215.01 L298.55,215.02 L300.06,215.03 L301.56,215.04 L303.06,215.05 L304.57,215.06 L306.07,215.07 L307.57,215.08 L309.08,215.09 L310.58,215.10 L312.08,215.11 L313.59,215.12 L315.09,215.13 L316.59,215.14 L318.10,215.15 L319.60,215.16 L321.11,215.17 L322.61,215.18 L324.11,215.20 L325.62,215.21 L327.12,215.22 L328.62,215.23 L330.13,215.24 L331.63,215.25 L333.13,215.26 L334.64,215.27 L336.14,215.28 L337.64,215.30 L339.15,215.31 L340.65,215.32 L342.15,215.33 L343.66,215.35 L345.16,215.36 L346.66,215.37 L348.17,215.39 L349.67,215.40 L351.17,215.41 L352.68,215.43 L354.18,215.44 L355.68,215.46 L357.19,215.48 L358.69,215.50 L360.19,215.52 L361.70,215.54 L363.20,215.56 L364.70,215.58 L366.21,215.61 L367.71,215.64 L369.21,215.69 L370.71,215.75 L372.20,215.83 L373.68,215.98 L375.13,216.19 L376.56,216.50 L377.97,216.89 L379.37,217.35 L380.77,217.86 L382.16,218.40 L383.55,218.96 L384.94,219.54 L386.32,220.13 L387.69,220.75 L389.04,221.39 L390.39,222.06 L391.73,222.74 L393.06,223.44 L394.38,224.16 L395.69,224.89 L396.99,225.64 L398.29,226.41 L399.57,227.18 L400.84,227.98 L402.08,228.82 L403.26,229.72 L404.36,230.70 L405.34,231.79 L406.20,232.97 L406.96,234.24 L407.64,235.57 L408.27,236.93 L408.86,238.31 L409.44,239.70 L410.01,241.09 L410.57,242.48 L411.12,243.88 L411.68,245.28 L412.23,246.68 L412.78,248.07 L413.34,249.47 L413.89,250.87 L414.45,252.26 L415.01,253.66 L415.57,255.06 L416.13,256.45 L416.69,257.85 L417.24,259.24 L417.80,260.64 L418.34,262.04 L418.87,263.44 L419.36,264.86 L419.79,266.28 L420.19,267.70 L420.56,269.13 L420.97,270.55 L421.44,271.95 L422.01,273.32 L422.64,274.67 L423.35,275.99 L424.11,277.28 L424.92,278.54 L425.78,279.77 L426.68,280.97 L427.62,282.13 L428.61,283.26 L429.64,284.35 L430.72,285.39 L431.85,286.37 L433.02,287.30 L434.24,288.17 L435.49,288.99 L436.77,289.77 L438.08,290.51 L439.40,291.22 L440.75,291.89 L442.11,292.53 L443.48,293.12 L444.88,293.67 L446.29,294.18 L447.72,294.63 L449.17,295.02 L450.63,295.37 L452.10,295.68 L453.58,295.95 L455.06,296.19 L456.54,296.41 L458.03,296.62 L459.52,296.81 L461.02,296.99 L462.51,297.16 L464.01,297.31 L465.50,297.46 L467.00,297.61 L468.50,297.76 L469.99,297.90" stroke="#1a1aff" stroke-width="1.65" fill="none" stroke-linejoin="round" stroke-linecap="round"/><path d="M295.55,215.00 L297.05,215.01 L298.56,215.02 L300.07,215.03 L301.57,215.04 L303.08,215.05 L304.59,215.06 L306.09,215.07 L307.60,215.08 L309.11,215.09 L310.61,215.10 L312.12,215.11 L313.63,215.12 L315.13,215.13 L316.64,215.14 L318.15,215.15 L319.65,215.16 L321.16,215.17 L322.67,215.18 L324.17,215.20 L325.68,215.21 L327.19,215.22 L328.69,215.24 L330.20,215.25 L331.70,215.27 L333.21,215.29 L334.72,215.30 L336.22,215.32 L337.73,215.34 L339.24,215.37 L340.74,215.39 L342.25,215.42 L343.76,215.45 L345.26,215.48 L346.77,215.52 L348.27,215.56 L349.78,215.62 L351.29,215.68 L352.79,215.75 L354.29,215.84 L355.80,215.94 L357.30,216.07 L358.79,216.23 L360.28,216.43 L361.77,216.67 L363.25,216.93 L364.73,217.22 L366.21,217.52 L367.68,217.83 L369.15,218.14 L370.62,218.48 L372.08,218.84 L373.52,219.25 L374.93,219.73 L376.29,220.30 L377.59,220.96 L378.86,221.69 L380.12,222.43 L381.40,223.13 L382.74,223.75 L384.12,224.30 L385.53,224.80 L386.95,225.30 L388.36,225.80 L389.78,226.32 L391.19,226.86 L392.59,227.41 L393.98,227.98 L395.37,228.57 L396.74,229.18 L398.08,229.85 L399.39,230.57 L400.64,231.38 L401.80,232.29 L402.87,233.30 L403.81,234.43 L404.64,235.65 L405.36,236.95 L406.00,238.30 L406.59,239.68 L407.16,241.07 L407.72,242.47 L408.28,243.87 L408.84,245.27 L409.40,246.66 L409.96,248.06 L410.52,249.46 L411.07,250.87 L411.62,252.27 L412.16,253.68 L412.69,255.08 L413.22,256.49 L413.75,257.91 L414.27,259.32 L414.77,260.74 L415.26,262.16 L415.72,263.59 L416.14,265.04 L416.53,266.49 L416.90,267.94 L417.29,269.39 L417.72,270.82 L418.21,272.24 L418.75,273.64 L419.32,275.03 L419.92,276.41 L420.53,277.79 L421.15,279.17 L421.77,280.54 L422.39,281.91 L423.04,283.27 L423.71,284.61 L424.43,285.93 L425.20,287.22 L426.03,288.47 L426.91,289.68 L427.84,290.86 L428.82,292.00 L429.84,293.11 L430.89,294.18 L431.98,295.21 L433.11,296.21 L434.27,297.17 L435.46,298.08 L436.69,298.94 L437.95,299.77 L439.23,300.56 L440.53,301.31 L441.85,302.04 L443.18,302.74 L444.52,303.42 L445.88,304.07 L447.25,304.69 L448.64,305.28 L450.03,305.84 L451.45,306.36 L452.87,306.82 L454.32,307.24 L455.77,307.62 L457.24,307.95 L458.71,308.25 L460.19,308.55 L461.66,308.86 L463.14,309.17 L464.61,309.50 L466.08,309.83 L467.55,310.17 L469.01,310.51 L469.99,310.74" stroke="#ff1aff" stroke-width="1.65" fill="none" stroke-linejoin="round" stroke-linecap="round"/><rect x="287.50" y="205.80" width="184.30" height="135.10" fill="none" stroke="#222222" stroke-width="1.5"/><rect x="419.30" y="209.80" width="45.20" height="35.80" fill="#fff" stroke="#c8c8c8" stroke-width="0.8"/><path d="M422.00,214.80H438.80" stroke="#1a1a1a" stroke-width="1.45"/><text x="440.90" y="217.40" font-size="7.1" fill="#222" stroke="#222" stroke-width="0.12">4H salt</text><path d="M422.00,223.65H438.80" stroke="#ff1a1a" stroke-width="1.45"/><text x="440.90" y="226.25" font-size="7.1" fill="#222" stroke="#222" stroke-width="0.12">4H</text><path d="M422.00,232.50H438.80" stroke="#1a1aff" stroke-width="1.45"/><text x="440.90" y="235.10" font-size="7.1" fill="#222" stroke="#222" stroke-width="0.12">4T</text><path d="M422.00,241.35H438.80" stroke="#ff1aff" stroke-width="1.45"/><text x="440.90" y="243.95" font-size="7.1" fill="#222" stroke="#222" stroke-width="0.12">4C</text></g>
<g><text x="2.5" y="375.8" font-size="12.5" font-weight="bold" fill="#1a1a1a">(e)</text><path d="M44.70,519.30V516.30 M56.22,519.30V517.50 M67.75,519.30V516.30 M79.28,519.30V517.50 M90.80,519.30V516.30 M102.33,519.30V517.50 M113.85,519.30V516.30 M125.38,519.30V517.50 M136.90,519.30V516.30 M148.43,519.30V517.50 M159.95,519.30V516.30 M171.48,519.30V517.50 M183.00,519.30V516.30 M194.53,519.30V517.50 M206.05,519.30V516.30 M217.58,519.30V517.50 M229.10,519.30V516.30 M44.70,519.30H47.70 M44.70,510.27H46.50 M44.70,501.23H47.70 M44.70,492.20H46.50 M44.70,483.17H47.70 M44.70,474.13H46.50 M44.70,465.10H47.70 M44.70,456.07H46.50 M44.70,447.03H47.70 M44.70,438.00H46.50 M44.70,428.97H47.70 M44.70,419.93H46.50 M44.70,410.90H47.70 M44.70,401.87H46.50 M44.70,392.83H47.70" stroke="#222222" stroke-width="1.3" fill="none"/><text x="41.30" y="522.00" font-size="8.2" font-weight="bold" fill="#1a1a1a" letter-spacing="-0.25" stroke="#1a1a1a" stroke-width="0.18" text-anchor="end">30</text><text x="41.30" y="503.93" font-size="8.2" font-weight="bold" fill="#1a1a1a" letter-spacing="-0.25" stroke="#1a1a1a" stroke-width="0.18" text-anchor="end">40</text><text x="41.30" y="485.87" font-size="8.2" font-weight="bold" fill="#1a1a1a" letter-spacing="-0.25" stroke="#1a1a1a" stroke-width="0.18" text-anchor="end">50</text><text x="41.30" y="467.80" font-size="8.2" font-weight="bold" fill="#1a1a1a" letter-spacing="-0.25" stroke="#1a1a1a" stroke-width="0.18" text-anchor="end">60</text><text x="41.30" y="449.73" font-size="8.2" font-weight="bold" fill="#1a1a1a" letter-spacing="-0.25" stroke="#1a1a1a" stroke-width="0.18" text-anchor="end">70</text><text x="41.30" y="431.67" font-size="8.2" font-weight="bold" fill="#1a1a1a" letter-spacing="-0.25" stroke="#1a1a1a" stroke-width="0.18" text-anchor="end">80</text><text x="41.30" y="413.60" font-size="8.2" font-weight="bold" fill="#1a1a1a" letter-spacing="-0.25" stroke="#1a1a1a" stroke-width="0.18" text-anchor="end">90</text><text x="41.30" y="395.53" font-size="8.2" font-weight="bold" fill="#1a1a1a" letter-spacing="-0.25" stroke="#1a1a1a" stroke-width="0.18" text-anchor="end">100</text><text x="44.60" y="529.00" font-size="8.2" font-weight="bold" fill="#1a1a1a" letter-spacing="-0.25" stroke="#1a1a1a" stroke-width="0.18" text-anchor="middle">0</text><text x="67.65" y="529.00" font-size="8.2" font-weight="bold" fill="#1a1a1a" letter-spacing="-0.25" stroke="#1a1a1a" stroke-width="0.18" text-anchor="middle">100</text><text x="90.70" y="529.00" font-size="8.2" font-weight="bold" fill="#1a1a1a" letter-spacing="-0.25" stroke="#1a1a1a" stroke-width="0.18" text-anchor="middle">200</text><text x="113.75" y="529.00" font-size="8.2" font-weight="bold" fill="#1a1a1a" letter-spacing="-0.25" stroke="#1a1a1a" stroke-width="0.18" text-anchor="middle">300</text><text x="136.80" y="529.00" font-size="8.2" font-weight="bold" fill="#1a1a1a" letter-spacing="-0.25" stroke="#1a1a1a" stroke-width="0.18" text-anchor="middle">400</text><text x="159.85" y="529.00" font-size="8.2" font-weight="bold" fill="#1a1a1a" letter-spacing="-0.25" stroke="#1a1a1a" stroke-width="0.18" text-anchor="middle">500</text><text x="182.90" y="529.00" font-size="8.2" font-weight="bold" fill="#1a1a1a" letter-spacing="-0.25" stroke="#1a1a1a" stroke-width="0.18" text-anchor="middle">600</text><text x="205.95" y="529.00" font-size="8.2" font-weight="bold" fill="#1a1a1a" letter-spacing="-0.25" stroke="#1a1a1a" stroke-width="0.18" text-anchor="middle">700</text><text x="229.00" y="529.00" font-size="8.2" font-weight="bold" fill="#1a1a1a" letter-spacing="-0.25" stroke="#1a1a1a" stroke-width="0.18" text-anchor="middle">800</text><text transform="translate(21.90,457.60) rotate(-90)" x="0" y="0" font-size="12.2" font-weight="bold" fill="#1a1a1a" stroke="#1a1a1a" stroke-width="0.25" text-anchor="middle">Weight (%)</text><text x="133.60" y="544.50" font-size="12.2" font-weight="bold" fill="#1a1a1a" stroke="#1a1a1a" stroke-width="0.25" text-anchor="middle">Temperature (<tspan font-size="8" dy="-4">o</tspan><tspan dy="4">C)</tspan></text><rect x="66.89" y="442.42" width="83.16" height="62.32" fill="#fff" stroke="#555" stroke-width="0.8"/><path d="M66.89,504.75V503.25 M87.68,504.75V503.75 M108.47,504.75V503.25 M129.26,504.75V503.75 M150.05,504.75V503.25 M66.89,504.75H68.39 M66.89,499.08H67.89 M66.89,493.42H68.39 M66.89,487.75H67.89 M66.89,482.08H68.39 M66.89,476.42H67.89 M66.89,470.75H68.39 M66.89,465.09H67.89 M66.89,459.42H68.39 M66.89,453.76H67.89 M66.89,448.09H68.39" stroke="#555" stroke-width="0.6" fill="none"/><text x="65.09" y="505.95" font-size="3.8" font-weight="bold" fill="#333" stroke="#333" stroke-width="0.12" text-anchor="end">50</text><text x="65.09" y="494.62" font-size="3.8" font-weight="bold" fill="#333" stroke="#333" stroke-width="0.12" text-anchor="end">60</text><text x="65.09" y="483.28" font-size="3.8" font-weight="bold" fill="#333" stroke="#333" stroke-width="0.12" text-anchor="end">70</text><text x="65.09" y="471.95" font-size="3.8" font-weight="bold" fill="#333" stroke="#333" stroke-width="0.12" text-anchor="end">80</text><text x="65.09" y="460.62" font-size="3.8" font-weight="bold" fill="#333" stroke="#333" stroke-width="0.12" text-anchor="end">90</text><text x="65.09" y="449.29" font-size="3.8" font-weight="bold" fill="#333" stroke="#333" stroke-width="0.12" text-anchor="end">100</text><text x="66.89" y="509.55" font-size="3.8" font-weight="bold" fill="#333" stroke="#333" stroke-width="0.12" text-anchor="middle">400</text><text x="108.47" y="509.55" font-size="3.8" font-weight="bold" fill="#333" stroke="#333" stroke-width="0.12" text-anchor="middle">500</text><text x="150.05" y="509.55" font-size="3.8" font-weight="bold" fill="#333" stroke="#333" stroke-width="0.12" text-anchor="middle">600</text><path d="M66.89,460.23 L68.40,460.34 L69.91,460.45 L71.42,460.57 L72.93,460.68 L74.44,460.79 L75.95,460.90 L77.45,461.01 L78.96,461.12 L80.47,461.24 L81.98,461.34 L83.49,461.45 L85.00,461.56 L86.51,461.66 L88.02,461.76 L89.53,461.86 L91.04,461.95 L92.55,462.05 L94.06,462.15 L95.57,462.25 L97.08,462.35 L98.59,462.47 L100.10,462.59 L101.61,462.73 L103.11,462.87 L104.62,463.02 L106.12,463.20 L107.61,463.44 L109.08,463.77 L110.53,464.20 L111.96,464.70 L113.36,465.26 L114.74,465.89 L116.08,466.58 L117.40,467.33 L118.67,468.14 L119.91,469.01 L121.10,469.94 L122.25,470.92 L123.37,471.93 L124.47,472.97 L125.57,474.01 L126.66,475.06 L127.77,476.09 L128.89,477.11 L130.02,478.11 L131.16,479.11 L132.30,480.11 L133.43,481.11 L134.56,482.12 L135.67,483.15 L136.76,484.20 L137.82,485.27 L138.86,486.38 L139.86,487.51 L140.85,488.65 L141.84,489.80 L142.83,490.94 L143.84,492.06 L144.89,493.16 L145.96,494.22 L147.06,495.26 L148.18,496.29 L149.30,497.30 L150.05,497.98" stroke="#555555" stroke-width="0.9" fill="none" stroke-linejoin="round"/><path d="M66.89,449.90 L68.40,449.98 L69.91,450.06 L71.42,450.14 L72.93,450.22 L74.44,450.30 L75.95,450.38 L77.46,450.46 L78.97,450.54 L80.48,450.62 L81.99,450.70 L83.51,450.78 L85.02,450.85 L86.53,450.93 L88.04,451.00 L89.55,451.07 L91.06,451.14 L92.57,451.21 L94.08,451.28 L95.59,451.35 L97.10,451.43 L98.61,451.51 L100.12,451.59 L101.63,451.68 L103.14,451.77 L104.65,451.86 L106.16,451.96 L107.66,452.10 L109.16,452.33 L110.63,452.65 L112.08,453.06 L113.52,453.54 L114.93,454.09 L116.32,454.68 L117.69,455.31 L119.05,455.97 L120.39,456.67 L121.71,457.41 L123.01,458.18 L124.30,458.97 L125.58,459.77 L126.87,460.57 L128.15,461.37 L129.45,462.15 L130.75,462.93 L132.04,463.70 L133.34,464.48 L134.64,465.26 L135.93,466.04 L137.23,466.82 L138.52,467.61 L139.81,468.39 L141.10,469.18 L142.38,469.99 L143.65,470.82 L144.89,471.68 L146.10,472.58 L147.30,473.51 L148.48,474.45 L149.65,475.41 L150.05,475.72" stroke="#ff5050" stroke-width="0.9" fill="none" stroke-linejoin="round"/><path d="M66.89,450.26 L68.40,450.27 L69.91,450.28 L71.42,450.29 L72.93,450.31 L74.44,450.32 L75.94,450.33 L77.45,450.35 L78.96,450.36 L80.47,450.38 L81.98,450.41 L83.49,450.43 L85.00,450.46 L86.51,450.49 L88.02,450.51 L89.53,450.54 L91.03,450.57 L92.54,450.60 L94.05,450.64 L95.56,450.68 L97.07,450.73 L98.58,450.80 L100.08,450.88 L101.59,450.99 L103.09,451.12 L104.59,451.30 L106.08,451.52 L107.56,451.82 L109.02,452.17 L110.48,452.57 L111.92,453.01 L113.36,453.47 L114.78,453.97 L116.18,454.54 L117.55,455.17 L118.88,455.88 L120.16,456.66 L121.41,457.51 L122.62,458.41 L123.80,459.35 L124.96,460.31 L126.11,461.29 L127.22,462.30 L128.27,463.37 L129.18,464.51 L130.11,465.64 L131.21,466.59 L132.46,467.42 L133.76,468.19 L135.05,468.97 L136.32,469.79 L137.54,470.67 L138.73,471.60 L139.88,472.57 L141.02,473.56 L142.14,474.57 L143.25,475.59 L144.35,476.63 L145.44,477.67 L146.52,478.73 L147.58,479.80 L148.64,480.87 L149.69,481.95 L150.05,482.31" stroke="#5050ff" stroke-width="0.9" fill="none" stroke-linejoin="round"/><path d="M66.89,449.01 L68.40,449.01 L69.91,449.00 L71.42,448.99 L72.92,448.99 L74.43,448.98 L75.94,448.98 L77.45,448.98 L78.96,448.98 L80.47,448.98 L81.98,448.99 L83.48,449.01 L84.99,449.03 L86.50,449.06 L88.01,449.09 L89.52,449.12 L91.03,449.15 L92.53,449.19 L94.04,449.23 L95.55,449.27 L97.06,449.33 L98.56,449.39 L100.07,449.46 L101.58,449.55 L103.08,449.66 L104.58,449.78 L106.08,449.95 L107.57,450.17 L109.05,450.46 L110.52,450.82 L111.97,451.23 L113.40,451.68 L114.82,452.19 L116.22,452.76 L117.58,453.40 L118.91,454.11 L120.19,454.90 L121.43,455.75 L122.64,456.66 L123.81,457.61 L124.96,458.58 L126.11,459.56 L127.25,460.55 L128.39,461.54 L129.52,462.53 L130.65,463.53 L131.78,464.54 L132.89,465.55 L134.01,466.57 L135.12,467.58 L136.24,468.60 L137.36,469.60 L138.49,470.60 L139.63,471.59 L140.77,472.58 L141.91,473.57 L143.04,474.57 L144.17,475.57 L145.28,476.59 L146.39,477.61 L147.49,478.64 L148.59,479.68 L149.68,480.72 L150.05,481.06" stroke="#ff50ff" stroke-width="0.9" fill="none" stroke-linejoin="round"/><path d="M52.55,392.58 L54.05,392.55 L55.55,392.52 L57.06,392.49 L58.56,392.45 L60.06,392.42 L61.56,392.38 L63.07,392.35 L64.57,392.33 L66.07,392.31 L67.58,392.30 L69.08,392.31 L70.58,392.33 L72.08,392.38 L73.56,392.50 L75.00,392.71 L76.36,393.07 L77.60,393.63 L78.72,394.40 L79.73,395.33 L80.72,396.33 L81.75,397.33 L82.87,398.28 L84.06,399.15 L85.31,399.95 L86.60,400.71 L87.92,401.42 L89.26,402.10 L90.62,402.74 L91.99,403.36 L93.37,403.95 L94.77,404.50 L96.18,405.01 L97.61,405.47 L99.05,405.88 L100.50,406.24 L101.97,406.55 L103.45,406.83 L104.93,407.09 L106.41,407.32 L107.90,407.54 L109.39,407.75 L110.88,407.95 L112.37,408.14 L113.86,408.32 L115.35,408.51 L116.85,408.68 L118.34,408.86 L119.83,409.04 L121.32,409.23 L122.81,409.42 L124.30,409.63 L125.79,409.84 L127.28,410.06 L128.76,410.29 L130.25,410.53 L131.73,410.78 L133.21,411.04 L134.69,411.31 L136.16,411.59 L137.64,411.89 L139.10,412.21 L140.57,412.54 L142.04,412.88 L143.50,413.22 L144.96,413.56 L146.43,413.90 L147.89,414.25 L149.35,414.59 L150.82,414.94 L152.28,415.29 L153.72,415.67 L155.15,416.11 L156.55,416.63 L157.89,417.25 L159.17,417.98 L160.38,418.83 L161.51,419.79 L162.54,420.84 L163.48,421.99 L164.30,423.22 L165.04,424.51 L165.70,425.85 L166.32,427.21 L166.91,428.59 L167.49,429.98 L168.07,431.36 L168.66,432.75 L169.24,434.13 L169.82,435.51 L170.38,436.89 L170.93,438.27 L171.46,439.65 L171.99,441.04 L172.53,442.43 L173.07,443.82 L173.62,445.22 L174.18,446.61 L174.74,448.01 L175.30,449.40 L175.86,450.80 L176.42,452.19 L176.98,453.59 L177.55,454.98 L178.12,456.37 L178.68,457.77 L179.25,459.16 L179.82,460.55 L180.38,461.94 L180.94,463.34 L181.48,464.74 L182.01,466.15 L182.52,467.56 L183.02,468.98 L183.50,470.40 L183.97,471.83 L184.42,473.26 L184.87,474.70 L185.33,476.13 L185.78,477.56 L186.26,478.99 L186.75,480.41 L187.27,481.82 L187.83,483.21 L188.44,484.58 L189.11,485.92 L189.84,487.22 L190.64,488.48 L191.52,489.68 L192.47,490.84 L193.48,491.94 L194.55,492.98 L195.67,493.98 L196.83,494.93 L198.02,495.83 L199.26,496.67 L200.53,497.46 L201.84,498.19 L203.18,498.85 L204.55,499.45 L205.95,499.98 L207.38,500.45 L208.81,500.87 L210.27,501.25 L211.73,501.59 L213.20,501.91 L214.67,502.20 L216.15,502.46 L217.64,502.69 L219.12,502.89 L220.62,503.07 L222.11,503.23 L223.61,503.38 L225.10,503.52 L226.60,503.65 L227.60,503.74" stroke="#1a1a1a" stroke-width="1.4" fill="none" stroke-linejoin="round" stroke-linecap="round"/><path d="M52.55,392.58 L54.05,392.60 L55.56,392.62 L57.06,392.64 L58.57,392.65 L60.07,392.67 L61.58,392.69 L63.08,392.70 L64.59,392.72 L66.10,392.74 L67.60,392.75 L69.11,392.77 L70.61,392.79 L72.12,392.80 L73.62,392.82 L75.13,392.84 L76.63,392.86 L78.14,392.88 L79.65,392.90 L81.15,392.92 L82.66,392.94 L84.16,392.96 L85.67,392.98 L87.17,393.01 L88.68,393.03 L90.18,393.06 L91.69,393.09 L93.19,393.12 L94.70,393.15 L96.20,393.20 L97.71,393.27 L99.21,393.35 L100.70,393.48 L102.20,393.63 L103.69,393.80 L105.18,393.97 L106.68,394.11 L108.17,394.22 L109.68,394.31 L111.18,394.38 L112.68,394.43 L114.19,394.48 L115.69,394.53 L117.20,394.57 L118.70,394.61 L120.21,394.65 L121.71,394.70 L123.22,394.74 L124.72,394.78 L126.23,394.83 L127.73,394.87 L129.24,394.92 L130.74,394.98 L132.25,395.04 L133.75,395.10 L135.25,395.18 L136.76,395.27 L138.26,395.39 L139.75,395.52 L141.25,395.69 L142.74,395.90 L144.22,396.14 L145.70,396.41 L147.18,396.70 L148.65,396.98 L150.13,397.24 L151.62,397.48 L153.10,397.70 L154.58,397.94 L156.04,398.23 L157.46,398.63 L158.82,399.17 L160.09,399.87 L161.25,400.74 L162.30,401.76 L163.24,402.89 L164.11,404.10 L164.92,405.36 L165.70,406.64 L166.46,407.94 L167.21,409.24 L167.97,410.54 L168.75,411.83 L169.56,413.10 L170.37,414.36 L171.20,415.62 L172.01,416.89 L172.79,418.17 L173.55,419.47 L174.27,420.79 L174.97,422.12 L175.64,423.47 L176.31,424.82 L176.98,426.17 L177.64,427.52 L178.31,428.87 L178.98,430.21 L179.65,431.56 L180.32,432.91 L180.99,434.26 L181.65,435.61 L182.32,436.96 L182.99,438.31 L183.68,439.64 L184.40,440.96 L185.17,442.25 L185.98,443.51 L186.86,444.71 L187.82,445.86 L188.85,446.94 L189.95,447.94 L191.13,448.85 L192.37,449.68 L193.66,450.41 L195.01,451.05 L196.40,451.61 L197.81,452.09 L199.26,452.50 L200.71,452.87 L202.18,453.20 L203.65,453.51 L205.13,453.79 L206.61,454.05 L208.10,454.29 L209.59,454.51 L211.08,454.71 L212.57,454.88 L214.07,455.04 L215.57,455.18 L217.07,455.29 L218.57,455.39 L220.08,455.47 L221.58,455.54 L223.08,455.59 L224.59,455.64 L226.09,455.68 L227.60,455.72" stroke="#ff1a1a" stroke-width="1.65" fill="none" stroke-linejoin="round" stroke-linecap="round"/><path d="M52.55,392.58 L54.05,392.61 L55.56,392.64 L57.06,392.67 L58.57,392.69 L60.07,392.72 L61.58,392.75 L63.09,392.77 L64.59,392.80 L66.10,392.83 L67.60,392.85 L69.11,392.88 L70.61,392.91 L72.12,392.93 L73.62,392.96 L75.13,392.99 L76.63,393.02 L78.14,393.05 L79.65,393.08 L81.15,393.12 L82.66,393.15 L84.16,393.19 L85.67,393.22 L87.17,393.26 L88.68,393.31 L90.18,393.35 L91.69,393.40 L93.19,393.46 L94.70,393.53 L96.20,393.62 L97.70,393.73 L99.19,393.89 L100.67,394.11 L102.13,394.40 L103.59,394.72 L105.04,395.06 L106.50,395.35 L107.98,395.57 L109.46,395.73 L110.96,395.83 L112.46,395.90 L113.97,395.94 L115.47,395.98 L116.98,396.00 L118.48,396.02 L119.99,396.04 L121.49,396.05 L123.00,396.06 L124.51,396.07 L126.01,396.08 L127.52,396.09 L129.02,396.10 L130.53,396.10 L132.03,396.10 L133.54,396.09 L135.05,396.09 L136.55,396.11 L138.06,396.14 L139.56,396.19 L141.06,396.25 L142.57,396.33 L144.07,396.42 L145.57,396.51 L147.08,396.61 L148.58,396.71 L150.08,396.81 L151.58,396.92 L153.08,397.05 L154.56,397.23 L156.01,397.51 L157.43,397.91 L158.76,398.48 L160.01,399.21 L161.13,400.12 L162.14,401.17 L163.04,402.34 L163.85,403.59 L164.61,404.88 L165.33,406.20 L166.02,407.54 L166.70,408.88 L167.37,410.23 L168.04,411.58 L168.71,412.92 L169.38,414.27 L170.04,415.62 L170.69,416.98 L171.32,418.35 L171.94,419.72 L172.54,421.10 L173.14,422.48 L173.73,423.87 L174.32,425.25 L174.91,426.64 L175.51,428.02 L176.10,429.41 L176.69,430.79 L177.28,432.18 L177.86,433.57 L178.43,434.96 L179.00,436.36 L179.54,437.76 L180.07,439.17 L180.58,440.58 L181.07,442.01 L181.54,443.44 L182.00,444.87 L182.44,446.31 L182.89,447.75 L183.32,449.19 L183.75,450.63 L184.18,452.08 L184.60,453.52 L185.01,454.97 L185.43,456.42 L185.84,457.86 L186.27,459.31 L186.71,460.75 L187.17,462.18 L187.67,463.60 L188.21,465.00 L188.81,466.37 L189.49,467.70 L190.26,468.96 L191.13,470.16 L192.12,471.26 L193.20,472.27 L194.37,473.18 L195.61,474.00 L196.91,474.75 L198.25,475.43 L199.62,476.03 L201.01,476.58 L202.43,477.07 L203.87,477.51 L205.32,477.90 L206.78,478.25 L208.25,478.57 L209.73,478.87 L211.21,479.14 L212.69,479.40 L214.18,479.64 L215.66,479.87 L217.15,480.09 L218.64,480.30 L220.14,480.51 L221.63,480.71 L223.12,480.91 L224.61,481.11 L226.11,481.30 L227.60,481.50" stroke="#1a1aff" stroke-width="1.65" fill="none" stroke-linejoin="round" stroke-linecap="round"/><path d="M52.55,392.58 L54.05,392.63 L55.55,392.68 L57.06,392.73 L58.56,392.77 L60.07,392.82 L61.57,392.87 L63.07,392.92 L64.58,392.97 L66.08,393.02 L67.59,393.07 L69.09,393.12 L70.59,393.17 L72.10,393.22 L73.60,393.27 L75.10,393.31 L76.61,393.36 L78.11,393.41 L79.62,393.46 L81.12,393.51 L82.62,393.55 L84.13,393.60 L85.63,393.65 L87.14,393.69 L88.64,393.74 L90.14,393.78 L91.65,393.83 L93.15,393.87 L94.66,393.92 L96.16,393.96 L97.66,394.00 L99.17,394.04 L100.67,394.08 L102.18,394.12 L103.68,394.15 L105.18,394.18 L106.69,394.22 L108.19,394.24 L109.70,394.27 L111.20,394.29 L112.71,394.30 L114.21,394.31 L115.72,394.32 L117.22,394.32 L118.73,394.32 L120.23,394.32 L121.73,394.31 L123.24,394.30 L124.74,394.29 L126.25,394.27 L127.75,394.26 L129.26,394.24 L130.76,394.23 L132.27,394.22 L133.77,394.22 L135.28,394.22 L136.78,394.24 L138.28,394.27 L139.79,394.32 L141.29,394.39 L142.79,394.48 L144.29,394.59 L145.79,394.72 L147.29,394.87 L148.78,395.01 L150.28,395.15 L151.78,395.28 L153.27,395.44 L154.75,395.64 L156.20,395.93 L157.60,396.35 L158.94,396.93 L160.18,397.67 L161.32,398.57 L162.36,399.61 L163.28,400.76 L164.13,401.99 L164.90,403.27 L165.63,404.58 L166.32,405.92 L166.98,407.27 L167.62,408.63 L168.24,410.00 L168.85,411.37 L169.45,412.75 L170.03,414.14 L170.61,415.53 L171.16,416.93 L171.71,418.33 L172.25,419.73 L172.78,421.14 L173.30,422.55 L173.83,423.96 L174.35,425.38 L174.87,426.79 L175.39,428.20 L175.92,429.61 L176.46,431.01 L177.02,432.41 L177.60,433.79 L178.20,435.17 L178.81,436.54 L179.42,437.92 L180.01,439.30 L180.57,440.69 L181.09,442.10 L181.57,443.52 L182.04,444.96 L182.48,446.39 L182.92,447.83 L183.35,449.27 L183.78,450.71 L184.21,452.16 L184.62,453.60 L185.04,455.05 L185.45,456.50 L185.87,457.94 L186.29,459.39 L186.73,460.82 L187.19,462.25 L187.69,463.67 L188.23,465.07 L188.84,466.44 L189.51,467.76 L190.29,469.02 L191.18,470.19 L192.19,471.26 L193.31,472.21 L194.52,473.05 L195.81,473.79 L197.15,474.44 L198.53,475.02 L199.94,475.55 L201.36,476.02 L202.80,476.45 L204.25,476.83 L205.72,477.18 L207.19,477.49 L208.67,477.76 L210.15,478.01 L211.64,478.24 L213.13,478.44 L214.62,478.62 L216.11,478.79 L217.61,478.95 L219.11,479.10 L220.61,479.24 L222.10,479.37 L223.60,479.51 L225.10,479.64 L226.60,479.77 L227.60,479.86" stroke="#ff1aff" stroke-width="1.65" fill="none" stroke-linejoin="round" stroke-linecap="round"/><rect x="44.70" y="383.80" width="184.40" height="135.50" fill="none" stroke="#222222" stroke-width="1.5"/><rect x="176.50" y="387.80" width="45.20" height="35.80" fill="#fff" stroke="#c8c8c8" stroke-width="0.8"/><path d="M179.20,392.80H196.00" stroke="#1a1a1a" stroke-width="1.45"/><text x="198.10" y="395.40" font-size="7.1" fill="#222" stroke="#222" stroke-width="0.12">5H salt</text><path d="M179.20,401.65H196.00" stroke="#ff1a1a" stroke-width="1.45"/><text x="198.10" y="404.25" font-size="7.1" fill="#222" stroke="#222" stroke-width="0.12">5H</text><path d="M179.20,410.50H196.00" stroke="#1a1aff" stroke-width="1.45"/><text x="198.10" y="413.10" font-size="7.1" fill="#222" stroke="#222" stroke-width="0.12">5T</text><path d="M179.20,419.35H196.00" stroke="#ff1aff" stroke-width="1.45"/><text x="198.10" y="421.95" font-size="7.1" fill="#222" stroke="#222" stroke-width="0.12">5C</text></g>
<g><text x="257.8" y="374.9" font-size="12.5" font-weight="bold" fill="#1a1a1a">(f)</text><path d="M290.80,519.90V516.90 M302.24,519.90V518.10 M313.68,519.90V516.90 M325.11,519.90V518.10 M336.55,519.90V516.90 M347.99,519.90V518.10 M359.43,519.90V516.90 M370.86,519.90V518.10 M382.30,519.90V516.90 M393.74,519.90V518.10 M405.18,519.90V516.90 M416.61,519.90V518.10 M428.05,519.90V516.90 M439.49,519.90V518.10 M450.93,519.90V516.90 M462.36,519.90V518.10 M473.80,519.90V516.90 M290.80,519.90H293.80 M290.80,510.86H292.60 M290.80,501.82H293.80 M290.80,492.78H292.60 M290.80,483.74H293.80 M290.80,474.70H292.60 M290.80,465.66H293.80 M290.80,456.62H292.60 M290.80,447.58H293.80 M290.80,438.54H292.60 M290.80,429.50H293.80 M290.80,420.46H292.60 M290.80,411.42H293.80 M290.80,402.38H292.60 M290.80,393.34H293.80" stroke="#222222" stroke-width="1.3" fill="none"/><text x="287.20" y="522.60" font-size="8.5" font-weight="bold" fill="#1a1a1a" letter-spacing="-0.25" stroke="#1a1a1a" stroke-width="0.18" text-anchor="end">30</text><text x="287.20" y="504.52" font-size="8.5" font-weight="bold" fill="#1a1a1a" letter-spacing="-0.25" stroke="#1a1a1a" stroke-width="0.18" text-anchor="end">40</text><text x="287.20" y="486.44" font-size="8.5" font-weight="bold" fill="#1a1a1a" letter-spacing="-0.25" stroke="#1a1a1a" stroke-width="0.18" text-anchor="end">50</text><text x="287.20" y="468.36" font-size="8.5" font-weight="bold" fill="#1a1a1a" letter-spacing="-0.25" stroke="#1a1a1a" stroke-width="0.18" text-anchor="end">60</text><text x="287.20" y="450.28" font-size="8.5" font-weight="bold" fill="#1a1a1a" letter-spacing="-0.25" stroke="#1a1a1a" stroke-width="0.18" text-anchor="end">70</text><text x="287.20" y="432.20" font-size="8.5" font-weight="bold" fill="#1a1a1a" letter-spacing="-0.25" stroke="#1a1a1a" stroke-width="0.18" text-anchor="end">80</text><text x="287.20" y="414.12" font-size="8.5" font-weight="bold" fill="#1a1a1a" letter-spacing="-0.25" stroke="#1a1a1a" stroke-width="0.18" text-anchor="end">90</text><text x="287.20" y="396.04" font-size="8.5" font-weight="bold" fill="#1a1a1a" letter-spacing="-0.25" stroke="#1a1a1a" stroke-width="0.18" text-anchor="end">100</text><text x="290.70" y="529.60" font-size="8.5" font-weight="bold" fill="#1a1a1a" letter-spacing="-0.25" stroke="#1a1a1a" stroke-width="0.18" text-anchor="middle">0</text><text x="313.57" y="529.60" font-size="8.5" font-weight="bold" fill="#1a1a1a" letter-spacing="-0.25" stroke="#1a1a1a" stroke-width="0.18" text-anchor="middle">100</text><text x="336.45" y="529.60" font-size="8.5" font-weight="bold" fill="#1a1a1a" letter-spacing="-0.25" stroke="#1a1a1a" stroke-width="0.18" text-anchor="middle">200</text><text x="359.32" y="529.60" font-size="8.5" font-weight="bold" fill="#1a1a1a" letter-spacing="-0.25" stroke="#1a1a1a" stroke-width="0.18" text-anchor="middle">300</text><text x="382.20" y="529.60" font-size="8.5" font-weight="bold" fill="#1a1a1a" letter-spacing="-0.25" stroke="#1a1a1a" stroke-width="0.18" text-anchor="middle">400</text><text x="405.07" y="529.60" font-size="8.5" font-weight="bold" fill="#1a1a1a" letter-spacing="-0.25" stroke="#1a1a1a" stroke-width="0.18" text-anchor="middle">500</text><text x="427.95" y="529.60" font-size="8.5" font-weight="bold" fill="#1a1a1a" letter-spacing="-0.25" stroke="#1a1a1a" stroke-width="0.18" text-anchor="middle">600</text><text x="450.82" y="529.60" font-size="8.5" font-weight="bold" fill="#1a1a1a" letter-spacing="-0.25" stroke="#1a1a1a" stroke-width="0.18" text-anchor="middle">700</text><text x="473.70" y="529.60" font-size="8.5" font-weight="bold" fill="#1a1a1a" letter-spacing="-0.25" stroke="#1a1a1a" stroke-width="0.18" text-anchor="middle">800</text><text transform="translate(269.20,452.10) rotate(-90)" x="0" y="0" font-size="12.2" font-weight="bold" fill="#1a1a1a" stroke="#1a1a1a" stroke-width="0.25" text-anchor="middle">Weight (%)</text><text x="377.20" y="547.00" font-size="12.2" font-weight="bold" fill="#1a1a1a" stroke="#1a1a1a" stroke-width="0.25" text-anchor="middle">Temperature (<tspan font-size="8" dy="-4">o</tspan><tspan dy="4">C)</tspan></text><rect x="304.89" y="426.42" width="83.69" height="62.68" fill="#fff" stroke="#555" stroke-width="0.8"/><path d="M304.89,489.10V487.60 M325.81,489.10V488.10 M346.74,489.10V487.60 M367.66,489.10V488.10 M388.58,489.10V487.60 M304.89,489.10H306.39 M304.89,483.40H305.89 M304.89,477.71H306.39 M304.89,472.01H305.89 M304.89,466.31H306.39 M304.89,460.61H305.89 M304.89,454.91H306.39 M304.89,449.22H305.89 M304.89,443.52H306.39 M304.89,437.82H305.89 M304.89,432.12H306.39" stroke="#555" stroke-width="0.6" fill="none"/><text x="303.09" y="490.30" font-size="3.8" font-weight="bold" fill="#333" stroke="#333" stroke-width="0.12" text-anchor="end">50</text><text x="303.09" y="478.91" font-size="3.8" font-weight="bold" fill="#333" stroke="#333" stroke-width="0.12" text-anchor="end">60</text><text x="303.09" y="467.51" font-size="3.8" font-weight="bold" fill="#333" stroke="#333" stroke-width="0.12" text-anchor="end">70</text><text x="303.09" y="456.11" font-size="3.8" font-weight="bold" fill="#333" stroke="#333" stroke-width="0.12" text-anchor="end">80</text><text x="303.09" y="444.72" font-size="3.8" font-weight="bold" fill="#333" stroke="#333" stroke-width="0.12" text-anchor="end">90</text><text x="303.09" y="433.32" font-size="3.8" font-weight="bold" fill="#333" stroke="#333" stroke-width="0.12" text-anchor="end">100</text><text x="304.89" y="493.90" font-size="3.8" font-weight="bold" fill="#333" stroke="#333" stroke-width="0.12" text-anchor="middle">400</text><text x="346.74" y="493.90" font-size="3.8" font-weight="bold" fill="#333" stroke="#333" stroke-width="0.12" text-anchor="middle">500</text><text x="388.58" y="493.90" font-size="3.8" font-weight="bold" fill="#333" stroke="#333" stroke-width="0.12" text-anchor="middle">600</text><path d="M304.89,446.01 L306.37,446.30 L307.86,446.59 L309.34,446.88 L310.83,447.17 L312.31,447.46 L313.79,447.76 L315.28,448.05 L316.76,448.35 L318.24,448.65 L319.72,448.96 L321.20,449.27 L322.68,449.58 L324.16,449.90 L325.64,450.22 L327.12,450.55 L328.59,450.87 L330.07,451.20 L331.54,451.53 L333.02,451.87 L334.49,452.21 L335.96,452.57 L337.43,452.93 L338.89,453.31 L340.35,453.71 L341.80,454.13 L343.24,454.59 L344.67,455.10 L346.08,455.65 L347.47,456.24 L348.85,456.86 L350.22,457.50 L351.58,458.16 L352.92,458.85 L354.25,459.58 L355.55,460.34 L356.83,461.15 L358.08,461.99 L359.31,462.87 L360.51,463.79 L361.69,464.73 L362.86,465.69 L364.02,466.67 L365.17,467.65 L366.32,468.63 L367.47,469.62 L368.60,470.61 L369.73,471.62 L370.86,472.63 L371.97,473.65 L373.09,474.67 L374.20,475.70 L375.31,476.72 L376.42,477.76 L377.52,478.79 L378.61,479.84 L379.70,480.88 L380.79,481.93 L381.89,482.97 L383.00,484.00 L384.11,485.03 L385.22,486.05 L386.34,487.07 L387.46,488.09 L388.58,489.10" stroke="#222222" stroke-width="0.9" fill="none" stroke-linejoin="round"/><path d="M304.89,435.68 L306.40,435.80 L307.90,435.92 L309.41,436.04 L310.92,436.16 L312.42,436.28 L313.93,436.40 L315.44,436.53 L316.94,436.66 L318.45,436.79 L319.95,436.93 L321.46,437.08 L322.96,437.23 L324.47,437.39 L325.97,437.55 L327.47,437.72 L328.97,437.89 L330.47,438.07 L331.97,438.25 L333.47,438.43 L334.97,438.62 L336.47,438.82 L337.97,439.02 L339.47,439.23 L340.96,439.45 L342.46,439.68 L343.95,439.94 L345.43,440.24 L346.89,440.60 L348.35,441.00 L349.79,441.45 L351.22,441.93 L352.64,442.46 L354.04,443.02 L355.42,443.63 L356.78,444.30 L358.11,445.02 L359.39,445.81 L360.64,446.66 L361.87,447.54 L363.07,448.45 L364.24,449.40 L365.35,450.40 L366.47,451.40 L367.64,452.34 L368.85,453.25 L370.07,454.15 L371.28,455.04 L372.50,455.94 L373.72,456.83 L374.94,457.73 L376.15,458.63 L377.36,459.54 L378.57,460.44 L379.78,461.35 L380.99,462.26 L382.19,463.17 L383.40,464.09 L384.59,465.01 L385.79,465.93 L386.99,466.86 L388.18,467.78 L388.58,468.09" stroke="#ff2a2a" stroke-width="0.9" fill="none" stroke-linejoin="round"/><path d="M304.89,433.90 L306.40,434.02 L307.90,434.13 L309.41,434.25 L310.91,434.36 L312.41,434.48 L313.92,434.60 L315.42,434.72 L316.93,434.85 L318.43,434.99 L319.93,435.14 L321.43,435.29 L322.93,435.46 L324.43,435.63 L325.93,435.81 L327.43,436.00 L328.93,436.19 L330.42,436.38 L331.92,436.59 L333.41,436.80 L334.91,437.02 L336.40,437.26 L337.88,437.51 L339.37,437.79 L340.84,438.09 L342.31,438.43 L343.77,438.83 L345.20,439.29 L346.61,439.84 L347.99,440.45 L349.34,441.12 L350.66,441.85 L351.95,442.62 L353.22,443.44 L354.47,444.28 L355.71,445.15 L356.93,446.03 L358.15,446.92 L359.36,447.82 L360.55,448.75 L361.73,449.69 L362.91,450.64 L364.07,451.60 L365.23,452.57 L366.38,453.54 L367.52,454.53 L368.66,455.52 L369.79,456.52 L370.91,457.53 L372.03,458.54 L373.14,459.56 L374.25,460.59 L375.34,461.63 L376.42,462.68 L377.49,463.75 L378.55,464.82 L379.61,465.90 L380.67,466.97 L381.75,468.03 L382.85,469.06 L383.97,470.07 L385.11,471.06 L386.26,472.03 L387.42,473.00 L388.58,473.97" stroke="#2a2aff" stroke-width="0.9" fill="none" stroke-linejoin="round"/><path d="M304.89,436.57 L306.40,436.72 L307.90,436.87 L309.41,437.02 L310.92,437.17 L312.42,437.32 L313.93,437.47 L315.44,437.63 L316.94,437.79 L318.45,437.96 L319.95,438.13 L321.45,438.32 L322.96,438.51 L324.46,438.70 L325.96,438.90 L327.46,439.11 L328.96,439.32 L330.46,439.53 L331.96,439.75 L333.45,439.98 L334.95,440.21 L336.44,440.46 L337.93,440.72 L339.42,441.00 L340.90,441.30 L342.38,441.63 L343.85,442.01 L345.29,442.45 L346.72,442.97 L348.11,443.55 L349.48,444.19 L350.83,444.88 L352.15,445.62 L353.44,446.41 L354.72,447.22 L355.98,448.06 L357.22,448.92 L358.45,449.80 L359.67,450.71 L360.86,451.64 L362.04,452.58 L363.21,453.55 L364.37,454.52 L365.53,455.49 L366.68,456.48 L367.82,457.47 L368.95,458.48 L370.08,459.49 L371.20,460.51 L372.32,461.53 L373.43,462.55 L374.56,463.57 L375.69,464.57 L376.83,465.57 L377.97,466.56 L379.12,467.55 L380.26,468.54 L381.39,469.55 L382.51,470.58 L383.60,471.62 L384.68,472.68 L385.75,473.76 L386.81,474.84 L387.87,475.92 L388.58,476.64" stroke="#ff2aff" stroke-width="0.9" fill="none" stroke-linejoin="round"/><path d="M297.51,393.20 L299.01,393.20 L300.52,393.20 L302.02,393.19 L303.52,393.19 L305.03,393.19 L306.53,393.19 L308.04,393.18 L309.54,393.18 L311.04,393.18 L312.55,393.18 L314.05,393.17 L315.55,393.17 L317.06,393.17 L318.56,393.18 L320.05,393.18 L321.53,393.21 L322.96,393.26 L324.30,393.38 L325.53,393.62 L326.67,394.02 L327.74,394.60 L328.81,395.33 L329.92,396.16 L331.07,397.05 L332.25,397.95 L333.45,398.85 L334.66,399.74 L335.89,400.60 L337.13,401.45 L338.39,402.27 L339.67,403.04 L340.98,403.75 L342.33,404.38 L343.72,404.92 L345.14,405.38 L346.59,405.75 L348.05,406.05 L349.53,406.29 L351.02,406.48 L352.51,406.66 L354.01,406.82 L355.50,406.99 L356.99,407.17 L358.48,407.39 L359.96,407.63 L361.44,407.92 L362.90,408.23 L364.36,408.59 L365.82,408.97 L367.26,409.38 L368.69,409.83 L370.12,410.30 L371.53,410.81 L372.94,411.34 L374.34,411.89 L375.73,412.45 L377.13,413.00 L378.53,413.53 L379.93,414.02 L381.33,414.48 L382.71,414.94 L384.07,415.43 L385.40,415.99 L386.72,416.61 L388.04,417.27 L389.37,417.94 L390.70,418.63 L392.03,419.32 L393.35,420.04 L394.66,420.78 L395.94,421.55 L397.19,422.37 L398.40,423.25 L399.55,424.20 L400.64,425.22 L401.66,426.31 L402.63,427.45 L403.54,428.64 L404.42,429.85 L405.27,431.09 L406.11,432.33 L406.97,433.57 L407.83,434.80 L408.70,436.02 L409.57,437.24 L410.41,438.49 L411.22,439.75 L411.99,441.04 L412.73,442.34 L413.45,443.67 L414.14,445.00 L414.83,446.34 L415.50,447.68 L416.16,449.03 L416.81,450.39 L417.45,451.75 L418.08,453.11 L418.70,454.48 L419.30,455.86 L419.89,457.24 L420.47,458.63 L421.04,460.02 L421.60,461.41 L422.14,462.82 L422.68,464.22 L423.20,465.63 L423.72,467.04 L424.22,468.46 L424.71,469.88 L425.18,471.31 L425.65,472.74 L426.11,474.17 L426.57,475.60 L427.03,477.03 L427.49,478.46 L427.97,479.88 L428.46,481.30 L428.97,482.72 L429.50,484.13 L430.04,485.53 L430.59,486.92 L431.18,488.31 L431.80,489.67 L432.48,491.00 L433.24,492.27 L434.10,493.48 L435.06,494.59 L436.14,495.59 L437.31,496.48 L438.57,497.25 L439.90,497.92 L441.27,498.50 L442.68,499.01 L444.10,499.46 L445.55,499.86 L447.01,500.22 L448.47,500.54 L449.95,500.82 L451.43,501.06 L452.92,501.29 L454.41,501.49 L455.90,501.68 L457.39,501.86 L458.88,502.03 L460.38,502.18 L461.88,502.32 L463.37,502.44 L464.87,502.56 L466.37,502.66 L467.87,502.77 L469.37,502.86 L470.87,502.96 L472.37,503.06" stroke="#1a1a1a" stroke-width="1.4" fill="none" stroke-linejoin="round" stroke-linecap="round"/><path d="M297.51,393.20 L299.02,393.22 L300.52,393.23 L302.03,393.24 L303.53,393.26 L305.04,393.27 L306.55,393.28 L308.05,393.29 L309.56,393.31 L311.06,393.32 L312.57,393.33 L314.07,393.35 L315.58,393.36 L317.09,393.38 L318.59,393.40 L320.10,393.41 L321.60,393.43 L323.11,393.45 L324.61,393.47 L326.12,393.49 L327.62,393.52 L329.13,393.55 L330.64,393.58 L332.14,393.61 L333.65,393.65 L335.15,393.70 L336.66,393.75 L338.16,393.80 L339.66,393.86 L341.17,393.93 L342.67,394.00 L344.18,394.08 L345.68,394.17 L347.18,394.25 L348.69,394.35 L350.19,394.44 L351.69,394.54 L353.19,394.64 L354.70,394.74 L356.20,394.84 L357.70,394.94 L359.20,395.04 L360.71,395.14 L362.21,395.25 L363.71,395.36 L365.21,395.48 L366.71,395.60 L368.21,395.73 L369.71,395.87 L371.21,396.02 L372.70,396.19 L374.20,396.39 L375.68,396.61 L377.16,396.87 L378.63,397.16 L380.09,397.47 L381.52,397.79 L382.93,398.09 L384.31,398.35 L385.69,398.58 L387.08,398.79 L388.50,399.02 L389.95,399.28 L391.40,399.58 L392.86,399.94 L394.30,400.36 L395.72,400.83 L397.12,401.36 L398.50,401.96 L399.84,402.63 L401.14,403.37 L402.38,404.19 L403.57,405.10 L404.69,406.08 L405.74,407.14 L406.75,408.25 L407.70,409.41 L408.62,410.60 L409.50,411.82 L410.35,413.06 L411.17,414.32 L411.95,415.60 L412.71,416.90 L413.43,418.22 L414.13,419.55 L414.81,420.90 L415.48,422.24 L416.14,423.59 L416.81,424.94 L417.48,426.29 L418.16,427.64 L418.83,428.98 L419.50,430.33 L420.16,431.68 L420.81,433.04 L421.44,434.41 L422.05,435.79 L422.64,437.17 L423.22,438.56 L423.80,439.95 L424.37,441.34 L424.94,442.74 L425.52,444.13 L426.10,445.51 L426.71,446.89 L427.33,448.26 L427.98,449.62 L428.65,450.97 L429.35,452.30 L430.08,453.61 L430.85,454.90 L431.69,456.14 L432.59,457.32 L433.58,458.43 L434.66,459.45 L435.82,460.37 L437.06,461.20 L438.35,461.93 L439.70,462.57 L441.09,463.12 L442.51,463.59 L443.96,463.99 L445.42,464.32 L446.89,464.60 L448.38,464.84 L449.87,465.05 L451.36,465.23 L452.86,465.40 L454.36,465.56 L455.85,465.70 L457.35,465.84 L458.85,465.97 L460.36,466.08 L461.86,466.20 L463.36,466.30 L464.86,466.41 L466.36,466.51 L467.87,466.61 L469.37,466.70 L470.87,466.80 L472.37,466.90" stroke="#ff1a1a" stroke-width="1.65" fill="none" stroke-linejoin="round" stroke-linecap="round"/><path d="M297.51,393.20 L299.02,393.23 L300.52,393.25 L302.03,393.28 L303.53,393.30 L305.04,393.33 L306.54,393.35 L308.05,393.38 L309.55,393.40 L311.06,393.42 L312.57,393.45 L314.07,393.47 L315.58,393.50 L317.08,393.52 L318.59,393.54 L320.09,393.57 L321.60,393.59 L323.10,393.62 L324.61,393.64 L326.11,393.67 L327.62,393.70 L329.12,393.72 L330.63,393.75 L332.14,393.78 L333.64,393.80 L335.15,393.83 L336.65,393.86 L338.16,393.89 L339.66,393.92 L341.17,393.95 L342.67,393.98 L344.18,394.01 L345.68,394.05 L347.19,394.08 L348.69,394.12 L350.20,394.16 L351.70,394.20 L353.21,394.24 L354.71,394.29 L356.22,394.34 L357.72,394.39 L359.23,394.45 L360.73,394.52 L362.24,394.58 L363.74,394.66 L365.24,394.73 L366.75,394.81 L368.25,394.90 L369.75,394.99 L371.25,395.08 L372.76,395.18 L374.26,395.28 L375.76,395.38 L377.26,395.48 L378.76,395.59 L380.26,395.71 L381.75,395.86 L383.24,396.04 L384.71,396.27 L386.18,396.55 L387.64,396.88 L389.10,397.24 L390.54,397.64 L391.98,398.09 L393.40,398.58 L394.80,399.12 L396.18,399.71 L397.53,400.36 L398.85,401.08 L400.13,401.85 L401.36,402.69 L402.54,403.61 L403.67,404.59 L404.73,405.65 L405.72,406.76 L406.66,407.93 L407.55,409.14 L408.40,410.38 L409.21,411.65 L409.99,412.93 L410.74,414.24 L411.46,415.55 L412.16,416.89 L412.84,418.23 L413.50,419.58 L414.15,420.94 L414.77,422.31 L415.37,423.69 L415.95,425.08 L416.51,426.48 L417.05,427.88 L417.56,429.30 L418.06,430.72 L418.54,432.14 L419.01,433.57 L419.48,435.01 L419.94,436.44 L420.42,437.87 L420.90,439.29 L421.40,440.71 L421.91,442.13 L422.43,443.54 L422.95,444.95 L423.49,446.36 L424.02,447.77 L424.54,449.18 L425.05,450.60 L425.55,452.02 L426.04,453.44 L426.51,454.87 L426.99,456.30 L427.45,457.73 L427.93,459.16 L428.40,460.59 L428.89,462.01 L429.38,463.43 L429.88,464.86 L430.39,466.27 L430.92,467.67 L431.50,469.05 L432.16,470.39 L432.91,471.67 L433.77,472.86 L434.75,473.97 L435.83,474.97 L437.01,475.87 L438.26,476.68 L439.57,477.39 L440.92,478.04 L442.30,478.61 L443.71,479.13 L445.14,479.59 L446.58,480.01 L448.04,480.39 L449.50,480.74 L450.97,481.06 L452.45,481.35 L453.93,481.62 L455.41,481.87 L456.90,482.10 L458.39,482.31 L459.88,482.49 L461.38,482.66 L462.88,482.82 L464.38,482.97 L465.88,483.11 L467.37,483.24 L468.87,483.37 L470.37,483.51 L471.87,483.64 L472.37,483.68" stroke="#1a1aff" stroke-width="1.65" fill="none" stroke-linejoin="round" stroke-linecap="round"/><path d="M297.51,393.20 L299.02,393.24 L300.52,393.27 L302.03,393.31 L303.53,393.34 L305.04,393.38 L306.54,393.41 L308.05,393.44 L309.55,393.47 L311.06,393.51 L312.56,393.54 L314.07,393.57 L315.58,393.61 L317.08,393.64 L318.59,393.67 L320.09,393.71 L321.60,393.74 L323.10,393.77 L324.61,393.81 L326.11,393.84 L327.62,393.88 L329.12,393.92 L330.63,393.95 L332.13,393.99 L333.64,394.03 L335.14,394.07 L336.65,394.11 L338.16,394.15 L339.66,394.19 L341.17,394.23 L342.67,394.28 L344.18,394.32 L345.68,394.37 L347.19,394.42 L348.69,394.47 L350.19,394.53 L351.70,394.59 L353.20,394.66 L354.71,394.73 L356.21,394.80 L357.71,394.88 L359.22,394.98 L360.72,395.08 L362.22,395.19 L363.72,395.31 L365.22,395.46 L366.72,395.62 L368.21,395.80 L369.70,396.01 L371.19,396.25 L372.67,396.51 L374.14,396.81 L375.60,397.15 L377.05,397.54 L378.48,397.99 L379.89,398.47 L381.28,399.00 L382.64,399.53 L383.97,400.05 L385.29,400.55 L386.62,401.04 L387.97,401.52 L389.36,402.00 L390.76,402.49 L392.17,403.00 L393.57,403.53 L394.97,404.10 L396.34,404.71 L397.69,405.37 L399.00,406.09 L400.28,406.87 L401.52,407.71 L402.71,408.62 L403.85,409.59 L404.93,410.62 L405.96,411.71 L406.93,412.85 L407.84,414.04 L408.70,415.27 L409.51,416.54 L410.28,417.83 L411.03,419.13 L411.75,420.45 L412.47,421.78 L413.17,423.11 L413.87,424.44 L414.55,425.78 L415.22,427.13 L415.87,428.49 L416.50,429.86 L417.10,431.24 L417.67,432.63 L418.22,434.03 L418.75,435.44 L419.28,436.85 L419.80,438.26 L420.32,439.67 L420.84,441.09 L421.37,442.50 L421.90,443.90 L422.43,445.31 L422.96,446.72 L423.49,448.13 L424.00,449.55 L424.51,450.97 L425.00,452.39 L425.48,453.82 L425.96,455.24 L426.43,456.68 L426.90,458.11 L427.37,459.54 L427.85,460.96 L428.33,462.39 L428.82,463.81 L429.32,465.23 L429.83,466.65 L430.37,468.05 L430.97,469.42 L431.65,470.74 L432.43,472.00 L433.31,473.18 L434.31,474.28 L435.40,475.28 L436.57,476.20 L437.81,477.04 L439.10,477.79 L440.43,478.46 L441.80,479.06 L443.20,479.60 L444.63,480.06 L446.07,480.48 L447.53,480.84 L449.00,481.16 L450.48,481.46 L451.96,481.73 L453.44,481.99 L454.93,482.23 L456.41,482.45 L457.90,482.66 L459.40,482.86 L460.89,483.04 L462.39,483.21 L463.88,483.37 L465.38,483.53 L466.88,483.68 L468.38,483.83 L469.88,483.98 L471.37,484.13 L472.37,484.23" stroke="#ff1aff" stroke-width="1.65" fill="none" stroke-linejoin="round" stroke-linecap="round"/><rect x="290.80" y="384.30" width="183.00" height="135.60" fill="none" stroke="#222222" stroke-width="1.5"/><rect x="422.60" y="388.30" width="45.20" height="35.80" fill="#fff" stroke="#c8c8c8" stroke-width="0.8"/><path d="M425.30,393.30H442.10" stroke="#1a1a1a" stroke-width="1.45"/><text x="444.20" y="395.90" font-size="7.1" fill="#222" stroke="#222" stroke-width="0.12">6H salt</text><path d="M425.30,402.15H442.10" stroke="#ff1a1a" stroke-width="1.45"/><text x="444.20" y="404.75" font-size="7.1" fill="#222" stroke="#222" stroke-width="0.12">6H</text><path d="M425.30,411.00H442.10" stroke="#1a1aff" stroke-width="1.45"/><text x="444.20" y="413.60" font-size="7.1" fill="#222" stroke="#222" stroke-width="0.12">6T</text><path d="M425.30,419.85H442.10" stroke="#ff1aff" stroke-width="1.45"/><text x="444.20" y="422.45" font-size="7.1" fill="#222" stroke="#222" stroke-width="0.12">6C</text></g>
</svg></body></html>
